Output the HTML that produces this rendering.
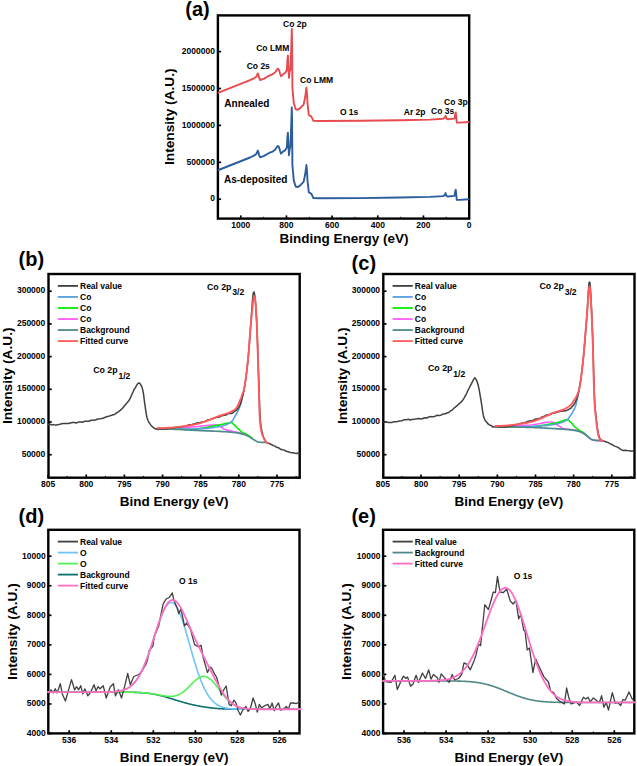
<!DOCTYPE html>
<html><head><meta charset="utf-8"><style>
html,body{margin:0;padding:0;background:#fff;}
svg{display:block;}
text{font-family:"Liberation Sans", sans-serif;fill:#000;}
</style></head><body>
<svg width="637" height="766" viewBox="0 0 637 766">
<rect width="637" height="766" fill="#fff"/>
<rect x="217.9" y="15.4" width="251.3" height="203.2" fill="none" stroke="#000" stroke-width="2.4"/>
<line x1="217.9" y1="199.2" x2="221.1" y2="199.2" stroke="#000" stroke-width="1.7"/>
<text x="214.9" y="201.4" font-size="8.5" text-anchor="end" font-weight="bold" >0</text>
<line x1="217.9" y1="162.3" x2="221.1" y2="162.3" stroke="#000" stroke-width="1.7"/>
<text x="214.9" y="164.5" font-size="8.5" text-anchor="end" font-weight="bold" >500000</text>
<line x1="217.9" y1="125.4" x2="221.1" y2="125.4" stroke="#000" stroke-width="1.7"/>
<text x="214.9" y="127.6" font-size="8.5" text-anchor="end" font-weight="bold" >1000000</text>
<line x1="217.9" y1="88.5" x2="221.1" y2="88.5" stroke="#000" stroke-width="1.7"/>
<text x="214.9" y="90.7" font-size="8.5" text-anchor="end" font-weight="bold" >1500000</text>
<line x1="217.9" y1="51.6" x2="221.1" y2="51.6" stroke="#000" stroke-width="1.7"/>
<text x="214.9" y="53.8" font-size="8.5" text-anchor="end" font-weight="bold" >2000000</text>
<line x1="240.8" y1="218.6" x2="240.8" y2="215.4" stroke="#000" stroke-width="1.7"/>
<text x="240.8" y="227.6" font-size="8.5" text-anchor="middle" font-weight="bold" >1000</text>
<line x1="286.46" y1="218.6" x2="286.46" y2="215.4" stroke="#000" stroke-width="1.7"/>
<text x="286.46" y="227.6" font-size="8.5" text-anchor="middle" font-weight="bold" >800</text>
<line x1="332.12" y1="218.6" x2="332.12" y2="215.4" stroke="#000" stroke-width="1.7"/>
<text x="332.12" y="227.6" font-size="8.5" text-anchor="middle" font-weight="bold" >600</text>
<line x1="377.78" y1="218.6" x2="377.78" y2="215.4" stroke="#000" stroke-width="1.7"/>
<text x="377.78" y="227.6" font-size="8.5" text-anchor="middle" font-weight="bold" >400</text>
<line x1="423.44" y1="218.6" x2="423.44" y2="215.4" stroke="#000" stroke-width="1.7"/>
<text x="423.44" y="227.6" font-size="8.5" text-anchor="middle" font-weight="bold" >200</text>
<line x1="469.1" y1="218.6" x2="469.1" y2="215.4" stroke="#000" stroke-width="1.7"/>
<text x="469.1" y="227.6" font-size="8.5" text-anchor="middle" font-weight="bold" >0</text>
<line x1="217.97" y1="218.6" x2="217.97" y2="216.8" stroke="#000" stroke-width="1"/>
<line x1="263.63" y1="218.6" x2="263.63" y2="216.8" stroke="#000" stroke-width="1"/>
<line x1="309.29" y1="218.6" x2="309.29" y2="216.8" stroke="#000" stroke-width="1"/>
<line x1="354.95" y1="218.6" x2="354.95" y2="216.8" stroke="#000" stroke-width="1"/>
<line x1="400.61" y1="218.6" x2="400.61" y2="216.8" stroke="#000" stroke-width="1"/>
<line x1="446.27" y1="218.6" x2="446.27" y2="216.8" stroke="#000" stroke-width="1"/>
<text x="343.9" y="243" font-size="13.5" text-anchor="middle" font-weight="bold" >Binding Energy (eV)</text>
<text x="174.5" y="116.7" font-size="13.7" text-anchor="middle" font-weight="bold" transform="rotate(-90 174.5 116.7)">Intensity (A.U.)</text>
<text x="185.3" y="16" font-size="20" text-anchor="start" font-weight="bold" >(a)</text>
<path d="M218.5,92.7 L235,86.2 L250,80.2 L253.9,78.3 L256.3,76.7 L257,75.2 L257.8,73.3 L258.5,75 L259,77.5 L260.2,80 L264.1,78.6 L267.3,76.7 L270.4,75.1 L272,74.6 L275.1,72.4 L277,69.5 L277.9,68.6 L279,69.8 L280,73.5 L281,76.3 L283,74.3 L285.3,72.8 L286.9,70 L287.4,60 L287.9,55.5 L288.4,68 L289,77.9 L289.6,72 L290.3,70 L290.9,58 L291.5,40 L291.8,28.9 L292.1,45 L292.4,87.7 L293.8,103.3 L295.7,109.2 L297.5,109.8 L299.7,108.6 L303.6,104.6 L305.2,97 L306.4,87.7 L307,94 L307.5,103.3 L308.8,115 L311.4,116.6 L313.4,120.8 L320,121 L360,120.8 L400,120.2 L430,119.6 L443,118.8 L445,117.5 L445.6,115.8 L446.4,118.6 L447.5,119.2 L454.5,118.6 L455.2,114 L455.8,112.5 L456.3,118 L456.8,122.6 L460,122.6 L468.6,122" fill="none" stroke="#E84A4F" stroke-width="1.9" stroke-linejoin="round" stroke-linecap="round" />
<path d="M218.5,170 L235,163.5 L250,157.5 L253.9,155.6 L256.3,154 L257,152.5 L257.8,150.6 L258.5,152.3 L259,154.8 L260.2,157.3 L264.1,155.9 L267.3,154 L270.4,152.4 L272,151.9 L275.1,149.7 L277,146.8 L277.9,145.9 L279,147.1 L280,150.8 L281,153.6 L283,151.6 L285.3,150.1 L286.9,147.3 L287.4,137.3 L287.9,132.8 L288.4,145.3 L289,155.2 L289.6,149.3 L290.3,147.3 L290.9,135.3 L291.5,117.3 L291.8,107.4 L292.1,122.3 L292.4,165 L293.8,180.6 L295.7,186.5 L297.5,187.1 L299.7,185.9 L303.6,181.9 L305.2,174.3 L306.4,165 L307,171.3 L307.5,180.6 L308.8,192.3 L311.4,193.9 L313.4,198.1 L320,198.3 L360,198.1 L400,197.5 L430,196.9 L443,196.1 L445,194.8 L445.6,193.1 L446.4,195.9 L447.5,196.5 L454.5,195.9 L455.2,191.3 L455.8,189.8 L456.3,195.3 L456.8,199.9 L460,199.9 L468.6,199.3" fill="none" stroke="#2B5C9B" stroke-width="1.9" stroke-linejoin="round" stroke-linecap="round" />
<text x="224.3" y="106.5" font-size="10" text-anchor="start" font-weight="bold" >Annealed</text>
<text x="224" y="182.8" font-size="10" text-anchor="start" font-weight="bold" >As-deposited</text>
<text x="283.1" y="27.1" font-size="8.5" text-anchor="start" font-weight="bold" >Co 2p</text>
<text x="256.2" y="51" font-size="8.5" text-anchor="start" font-weight="bold" >Co LMM</text>
<text x="246.7" y="68.6" font-size="8.5" text-anchor="start" font-weight="bold" >Co 2s</text>
<text x="300" y="83.1" font-size="8.5" text-anchor="start" font-weight="bold" >Co LMM</text>
<text x="339.9" y="115.3" font-size="8.5" text-anchor="start" font-weight="bold" >O 1s</text>
<text x="403.8" y="114.8" font-size="8.5" text-anchor="start" font-weight="bold" >Ar 2p</text>
<text x="431" y="113.5" font-size="8.5" text-anchor="start" font-weight="bold" >Co 3s</text>
<text x="444" y="105.2" font-size="8.5" text-anchor="start" font-weight="bold" >Co 3p</text>
<rect x="48.5" y="274" width="251.2" height="203.7" fill="none" stroke="#000" stroke-width="2.4"/>
<line x1="48.5" y1="454.7" x2="51.7" y2="454.7" stroke="#000" stroke-width="1.7"/>
<text x="45.3" y="456.7" font-size="8.5" text-anchor="end" font-weight="bold" >50000</text>
<line x1="48.5" y1="422" x2="51.7" y2="422" stroke="#000" stroke-width="1.7"/>
<text x="45.3" y="424" font-size="8.5" text-anchor="end" font-weight="bold" >100000</text>
<line x1="48.5" y1="389.3" x2="51.7" y2="389.3" stroke="#000" stroke-width="1.7"/>
<text x="45.3" y="391.3" font-size="8.5" text-anchor="end" font-weight="bold" >150000</text>
<line x1="48.5" y1="356.6" x2="51.7" y2="356.6" stroke="#000" stroke-width="1.7"/>
<text x="45.3" y="358.6" font-size="8.5" text-anchor="end" font-weight="bold" >200000</text>
<line x1="48.5" y1="323.9" x2="51.7" y2="323.9" stroke="#000" stroke-width="1.7"/>
<text x="45.3" y="325.9" font-size="8.5" text-anchor="end" font-weight="bold" >250000</text>
<line x1="48.5" y1="291.2" x2="51.7" y2="291.2" stroke="#000" stroke-width="1.7"/>
<text x="45.3" y="293.2" font-size="8.5" text-anchor="end" font-weight="bold" >300000</text>
<line x1="48.1" y1="477.7" x2="48.1" y2="474.5" stroke="#000" stroke-width="1.7"/>
<text x="48.1" y="487.2" font-size="8.5" text-anchor="middle" font-weight="bold" >805</text>
<line x1="86.25" y1="477.7" x2="86.25" y2="474.5" stroke="#000" stroke-width="1.7"/>
<text x="86.25" y="487.2" font-size="8.5" text-anchor="middle" font-weight="bold" >800</text>
<line x1="124.4" y1="477.7" x2="124.4" y2="474.5" stroke="#000" stroke-width="1.7"/>
<text x="124.4" y="487.2" font-size="8.5" text-anchor="middle" font-weight="bold" >795</text>
<line x1="162.55" y1="477.7" x2="162.55" y2="474.5" stroke="#000" stroke-width="1.7"/>
<text x="162.55" y="487.2" font-size="8.5" text-anchor="middle" font-weight="bold" >790</text>
<line x1="200.7" y1="477.7" x2="200.7" y2="474.5" stroke="#000" stroke-width="1.7"/>
<text x="200.7" y="487.2" font-size="8.5" text-anchor="middle" font-weight="bold" >785</text>
<line x1="238.85" y1="477.7" x2="238.85" y2="474.5" stroke="#000" stroke-width="1.7"/>
<text x="238.85" y="487.2" font-size="8.5" text-anchor="middle" font-weight="bold" >780</text>
<line x1="277" y1="477.7" x2="277" y2="474.5" stroke="#000" stroke-width="1.7"/>
<text x="277" y="487.2" font-size="8.5" text-anchor="middle" font-weight="bold" >775</text>
<line x1="67.17" y1="477.7" x2="67.17" y2="475.9" stroke="#000" stroke-width="1"/>
<line x1="105.33" y1="477.7" x2="105.33" y2="475.9" stroke="#000" stroke-width="1"/>
<line x1="143.47" y1="477.7" x2="143.47" y2="475.9" stroke="#000" stroke-width="1"/>
<line x1="181.62" y1="477.7" x2="181.62" y2="475.9" stroke="#000" stroke-width="1"/>
<line x1="219.78" y1="477.7" x2="219.78" y2="475.9" stroke="#000" stroke-width="1"/>
<line x1="257.93" y1="477.7" x2="257.93" y2="475.9" stroke="#000" stroke-width="1"/>
<line x1="296.07" y1="477.7" x2="296.07" y2="475.9" stroke="#000" stroke-width="1"/>
<text x="174.1" y="505.9" font-size="13.5" text-anchor="middle" font-weight="bold" >Bind Energy (eV)</text>
<text x="12.4" y="375.8" font-size="13.7" text-anchor="middle" font-weight="bold" transform="rotate(-90 12.4 375.8)">Intensity (A.U.)</text>
<text x="18.5" y="266.3" font-size="20" text-anchor="start" font-weight="bold" >(b)</text>
<line x1="57.8" y1="285.9" x2="78" y2="285.9" stroke="#404040" stroke-width="1.8"/>
<text x="80" y="289" font-size="8.5" text-anchor="start" font-weight="bold" >Real value</text>
<line x1="57.8" y1="296.94" x2="78" y2="296.94" stroke="#58A0E0" stroke-width="1.8"/>
<text x="80" y="300.04" font-size="8.5" text-anchor="start" font-weight="bold" >Co</text>
<line x1="57.8" y1="307.98" x2="78" y2="307.98" stroke="#00F000" stroke-width="1.8"/>
<text x="80" y="311.08" font-size="8.5" text-anchor="start" font-weight="bold" >Co</text>
<line x1="57.8" y1="319.02" x2="78" y2="319.02" stroke="#FF5CFF" stroke-width="1.8"/>
<text x="80" y="322.12" font-size="8.5" text-anchor="start" font-weight="bold" >Co</text>
<line x1="57.8" y1="330.06" x2="78" y2="330.06" stroke="#4E8B8C" stroke-width="1.8"/>
<text x="80" y="333.16" font-size="8.5" text-anchor="start" font-weight="bold" >Background</text>
<line x1="57.8" y1="341.1" x2="78" y2="341.1" stroke="#FF5A5C" stroke-width="1.8"/>
<text x="80" y="344.2" font-size="8.5" text-anchor="start" font-weight="bold" >Fitted curve</text>
<text x="207" y="289.6" font-size="8.8" font-weight="bold">Co 2p<tspan font-size="8.6" dx="0.8" dy="5.6">3/2</tspan></text>
<text x="93.2" y="372.7" font-size="8.8" font-weight="bold">Co 2p<tspan font-size="8.6" dx="0.8" dy="5.9">1/2</tspan></text>
<path d="M157.5,428.6 L158.34,428.57 L159.38,428.54 L160.59,428.51 L161.94,428.47 L163.42,428.42 L165,428.38 L166.64,428.32 L168.33,428.27 L170.04,428.21 L171.74,428.14 L173.4,428.07 L175,428 L176.59,427.92 L178.22,427.84 L179.88,427.76 L181.57,427.67 L183.27,427.57 L184.99,427.48 L186.7,427.37 L188.41,427.27 L190.1,427.16 L191.77,427.04 L193.41,426.92 L195,426.8 L196.59,426.66 L198.22,426.51 L199.86,426.34 L201.51,426.16 L203.14,425.97 L204.73,425.79 L206.28,425.61 L207.76,425.44 L209.16,425.3 L210.46,425.17 L211.65,425.07 L212.7,425 L213.61,424.96 L214.37,424.93 L215.01,424.91 L215.54,424.91 L216,424.93 L216.39,424.96 L216.75,425.02 L217.08,425.09 L217.41,425.18 L217.76,425.3 L218.15,425.44 L218.6,425.6 L219.09,425.8 L219.6,426.06 L220.11,426.35 L220.62,426.67 L221.14,427.01 L221.64,427.37 L222.14,427.73 L222.63,428.07 L223.11,428.41 L223.56,428.71 L223.99,428.98 L224.4,429.2 L224.76,429.38 L225.07,429.52 L225.35,429.63 L225.59,429.73 L225.82,429.8 L226.05,429.86 L226.29,429.92 L226.54,429.97 L226.83,430.03 L227.16,430.11 L227.55,430.19 L228,430.3 L228.53,430.43 L229.13,430.56 L229.78,430.71 L230.48,430.86 L231.21,431.02 L231.96,431.18 L232.71,431.34 L233.47,431.5 L234.2,431.66 L234.91,431.82 L235.58,431.96 L236.2,432.1 L236.79,432.24 L237.38,432.37 L237.97,432.51 L238.56,432.65 L239.12,432.78 L239.66,432.91 L240.18,433.04 L240.66,433.15 L241.09,433.26 L241.48,433.35 L241.82,433.43 L242.1,433.5" fill="none" stroke="#FF5CFF" stroke-width="1.6" stroke-linejoin="round" stroke-linecap="round" />
<path d="M157.5,428.6 L158.34,428.62 L159.38,428.65 L160.59,428.68 L161.94,428.71 L163.42,428.75 L165,428.79 L166.64,428.83 L168.33,428.87 L170.04,428.9 L171.74,428.94 L173.4,428.97 L175,429 L176.57,429.04 L178.15,429.1 L179.74,429.17 L181.35,429.24 L182.97,429.32 L184.62,429.39 L186.28,429.44 L187.97,429.47 L189.69,429.46 L191.43,429.42 L193.2,429.34 L195,429.2 L196.88,429 L198.86,428.73 L200.93,428.41 L203.04,428.06 L205.18,427.67 L207.32,427.26 L209.43,426.84 L211.48,426.42 L213.45,426.02 L215.31,425.64 L217.04,425.3 L218.6,425 L220.02,424.73 L221.35,424.47 L222.58,424.22 L223.73,423.99 L224.8,423.76 L225.79,423.55 L226.7,423.36 L227.54,423.18 L228.32,423.03 L229.04,422.89 L229.7,422.78 L230.3,422.7 L230.81,422.64 L231.19,422.58 L231.45,422.55 L231.64,422.53 L231.75,422.54 L231.83,422.56 L231.87,422.61 L231.92,422.69 L231.98,422.79 L232.09,422.93 L232.25,423.1 L232.5,423.3 L232.81,423.55 L233.16,423.85 L233.54,424.2 L233.94,424.59 L234.36,425 L234.79,425.43 L235.24,425.88 L235.68,426.33 L236.13,426.77 L236.56,427.2 L236.99,427.62 L237.4,428 L237.79,428.37 L238.18,428.73 L238.56,429.09 L238.94,429.45 L239.31,429.8 L239.69,430.15 L240.07,430.49 L240.45,430.83 L240.85,431.16 L241.25,431.48 L241.67,431.8 L242.1,432.1 L242.56,432.39 L243.04,432.68 L243.54,432.95 L244.05,433.22 L244.57,433.48 L245.09,433.73 L245.62,433.98 L246.13,434.23 L246.63,434.47 L247.11,434.71 L247.57,434.96 L248,435.2 L248.41,435.45 L248.82,435.72 L249.23,435.99 L249.62,436.26 L250,436.53 L250.37,436.79 L250.71,437.05 L251.03,437.29 L251.33,437.5 L251.59,437.7 L251.81,437.87 L252,438" fill="none" stroke="#00F000" stroke-width="1.6" stroke-linejoin="round" stroke-linecap="round" />
<path d="M157.5,428.6 L159.36,428.63 L161.74,428.67 L164.56,428.73 L167.74,428.8 L171.17,428.87 L174.78,428.94 L178.46,429 L182.14,429.04 L185.72,429.07 L189.12,429.08 L192.24,429.06 L195,429 L197.49,428.91 L199.88,428.81 L202.16,428.68 L204.34,428.54 L206.42,428.37 L208.41,428.19 L210.31,428 L212.13,427.79 L213.86,427.56 L215.52,427.32 L217.09,427.07 L218.6,426.8 L220.01,426.52 L221.32,426.23 L222.53,425.92 L223.64,425.6 L224.67,425.26 L225.63,424.91 L226.52,424.54 L227.36,424.16 L228.15,423.76 L228.89,423.36 L229.61,422.94 L230.3,422.5 L230.94,422.05 L231.49,421.6 L231.96,421.14 L232.38,420.66 L232.75,420.17 L233.08,419.67 L233.39,419.15 L233.69,418.6 L233.98,418.04 L234.29,417.45 L234.63,416.84 L235,416.2 L235.4,415.52 L235.82,414.8 L236.25,414.04 L236.69,413.26 L237.12,412.45 L237.55,411.62 L237.97,410.8 L238.38,409.97 L238.77,409.15 L239.14,408.34 L239.49,407.55 L239.8,406.8 L240.08,406.07 L240.33,405.36 L240.56,404.65 L240.77,403.96 L240.96,403.27 L241.13,402.59 L241.3,401.92 L241.46,401.24 L241.61,400.56 L241.77,399.88 L241.93,399.2 L242.1,398.5 L242.28,397.77 L242.46,397 L242.65,396.19 L242.83,395.37 L243.02,394.54 L243.19,393.73 L243.36,392.95 L243.52,392.21 L243.67,391.53 L243.8,390.93 L243.91,390.41 L244,390" fill="none" stroke="#58A0E0" stroke-width="1.6" stroke-linejoin="round" stroke-linecap="round" />
<path d="M157.5,428.6 L158.34,428.63 L159.38,428.67 L160.59,428.72 L161.94,428.77 L163.42,428.83 L165,428.89 L166.64,428.95 L168.33,429.02 L170.04,429.09 L171.74,429.16 L173.4,429.23 L175,429.3 L176.53,429.37 L178.01,429.44 L179.47,429.51 L180.91,429.58 L182.38,429.65 L183.89,429.73 L185.46,429.81 L187.11,429.9 L188.87,429.99 L190.75,430.08 L192.79,430.19 L195,430.3 L197.47,430.42 L200.23,430.54 L203.22,430.67 L206.37,430.8 L209.64,430.94 L212.94,431.08 L216.23,431.23 L219.45,431.39 L222.52,431.55 L225.4,431.73 L228.01,431.91 L230.3,432.1 L232.3,432.3 L234.09,432.5 L235.7,432.7 L237.14,432.91 L238.45,433.13 L239.64,433.36 L240.73,433.6 L241.76,433.85 L242.74,434.12 L243.69,434.39 L244.63,434.69 L245.6,435 L246.55,435.34 L247.43,435.72 L248.25,436.12 L249.02,436.55 L249.74,436.99 L250.41,437.44 L251.05,437.88 L251.66,438.31 L252.24,438.73 L252.81,439.12 L253.36,439.48 L253.9,439.8 L254.41,440.09 L254.86,440.35 L255.27,440.6 L255.64,440.83 L255.99,441.04 L256.33,441.23 L256.65,441.41 L256.99,441.57 L257.34,441.72 L257.72,441.86 L258.14,441.99 L258.6,442.1 L259.12,442.19 L259.7,442.26 L260.32,442.31 L260.97,442.34 L261.63,442.35 L262.3,442.36 L262.96,442.36 L263.6,442.35 L264.21,442.35 L264.77,442.36 L265.27,442.37 L265.7,442.4 L266.07,442.44 L266.39,442.49 L266.67,442.54 L266.91,442.6 L267.12,442.66 L267.29,442.72 L267.45,442.78 L267.58,442.83 L267.7,442.89 L267.81,442.93 L267.9,442.97 L268,443" fill="none" stroke="#4E8B8C" stroke-width="1.7" stroke-linejoin="round" stroke-linecap="round" />
<path d="M48.5,424.6 L50.17,424.24 L51.73,424.91 L53.46,424.62 L55.22,424.88 L56.87,425.07 L58.27,424.58 L60.08,424.31 L61.79,423.63 L63.65,423.48 L65.1,423.5 L66.75,423.51 L68.54,423.49 L70.43,422.98 L72.4,422.56 L74.4,422.6 L76.4,422.96 L78.43,422.12 L80.51,422.08 L82.62,422.23 L84.76,421.14 L86.89,421.33 L89,421.29 L91.12,420.3 L93.26,420.19 L95.41,420.09 L97.51,418.99 L99.56,418.88 L101.5,418.61 L103.4,418.04 L105.29,417.32 L107.12,416.54 L108.82,416.22 L110.33,415.62 L111.6,415.28 L112.85,414.79 L114.1,414.66 L115.43,413.82 L116.91,412.62 L118.02,412.07 L119.15,411.11 L120.26,410.37 L121.3,409.43 L122.3,408.55 L123.31,407.26 L124.3,406.07 L125.23,404.95 L126.08,403.76 L127.1,402.74 L128.13,401.58 L129.1,400.45 L129.77,399.07 L130.57,397.36 L131.44,395.47 L132.31,393.51 L133.12,391.71 L133.8,390.21 L134.56,388.75 L135.32,387.61 L136.2,386.21 L136.99,384.87 L137.76,383.65 L138.86,382.94 L139.87,383.49 L140.65,384.64 L141.47,386.02 L141.97,387.19 L142.47,388.91 L142.82,390.39 L143.16,392.08 L143.5,394 L143.71,395.42 L143.9,396.91 L144.09,398.51 L144.29,400.22 L144.52,402.05 L144.8,404 L145.12,406.2 L145.46,408.69 L145.65,409.98 L145.84,411.28 L146.04,412.57 L146.47,415.06 L146.94,417.25 L147.47,419.07 L148.05,420.58 L148.68,421.8 L149.69,423.37 L150.74,424.86 L151.84,426.2 L153.03,427.2 L154.24,428.15 L155.42,428.94 L156.63,428.82 L158.2,429.65 L160,429 L161.88,429.04 L164.2,429.12 L166.82,428.78 L168.2,428.12 L169.6,428.42 L171,427.73 L172.38,427.82 L173.72,428.05 L176.25,427.36 L178.75,427.14 L181.25,426.86 L183.75,426.51 L186.25,426 L188.75,424.84 L191.25,424.65 L193.75,424.08 L196.25,423.08 L198.75,422.81 L201.25,422.16 L203.75,421.63 L206.28,421 L207.59,419.94 L208.94,419.63 L210.3,419.58 L211.66,418.74 L213,418.41 L214.32,418.3 L215.59,417.58 L217.96,417.35 L220,416.79 L221.63,415.62 L222.92,415.63 L224.48,415.36 L225.92,415.04 L227.59,413.93 L229.4,413.38 L231.22,413.5 L232.98,412.79 L234.1,411.61 L235.17,410.98 L236.2,410.33 L237.2,409.43 L238.17,407.99 L239.1,406.65 L240,404.74 L240.87,402.36 L241.29,401.02 L241.7,399.62 L242.1,398.16 L242.5,396.64 L242.89,394.98 L243.27,393.28 L243.64,391.54 L244,389.7 L244.35,387.83 L244.7,385.89 L245.04,383.88 L245.37,381.76 L245.69,379.55 L246,377.25 L246.3,374.9 L246.59,372.49 L246.88,370.04 L247.16,367.56 L247.43,365.06 L247.69,362.55 L247.95,360.07 L248.2,357.6 L248.44,355.14 L248.66,352.69 L248.86,350.22 L249.06,347.74 L249.25,345.25 L249.43,342.73 L249.61,340.19 L249.8,337.62 L249.98,335.03 L250.18,332.39 L250.38,329.72 L250.6,327 L250.83,324.04 L251.07,320.71 L251.31,317.13 L251.56,313.41 L251.82,309.65 L252.07,305.98 L252.33,302.49 L252.59,299.31 L252.85,296.53 L253.1,294.28 L253.36,292.67 L254.08,291.92 L254.57,294.06 L254.81,295.77 L255.04,297.83 L255.28,300.23 L255.51,302.93 L255.74,305.9 L255.96,309.09 L256.18,312.47 L256.4,316 L256.61,319.91 L256.82,324.4 L257.03,329.36 L257.23,334.68 L257.43,340.27 L257.63,346.01 L257.82,351.81 L258.01,357.56 L258.19,363.16 L258.37,368.5 L258.54,373.48 L258.7,378 L258.85,382.18 L258.99,386.22 L259.11,390.11 L259.23,393.85 L259.34,397.44 L259.44,400.88 L259.55,404.15 L259.66,407.26 L259.78,410.2 L259.91,412.98 L260.05,415.58 L260.2,418 L260.37,420.2 L260.54,422.15 L260.71,423.88 L260.9,425.41 L261.09,426.79 L261.48,429.13 L261.91,431.14 L262.36,433.01 L262.85,434.97 L263.41,436.71 L264.01,438.18 L264.62,439.39 L265.49,441.04 L266.21,442.03 L267.49,442.99 L269.19,443.55 L270.39,443.94 L271.76,444.78 L273.26,445.6 L274.85,446.08 L276.5,447.26 L278.26,447.73 L280.18,448.95 L282.19,449.79 L284.24,450.08 L286.26,451.28 L288.2,451.64 L290.18,452.51 L292.27,452.73 L294.33,452.96 L296.23,453.59 L297.84,453.05 L299,453.65" fill="none" stroke="#404040" stroke-width="1.5" stroke-linejoin="round" stroke-linecap="round" />
<path d="M157.5,428.3 L158.34,428.26 L159.38,428.21 L160.59,428.16 L161.94,428.11 L163.42,428.05 L165,427.98 L166.64,427.9 L168.33,427.81 L170.04,427.71 L171.74,427.59 L173.4,427.45 L175,427.3 L176.61,427.13 L178.28,426.93 L180.02,426.72 L181.79,426.5 L183.57,426.26 L185.36,426.01 L187.12,425.75 L188.85,425.48 L190.52,425.21 L192.11,424.94 L193.61,424.67 L195,424.4 L196.27,424.13 L197.44,423.87 L198.53,423.6 L199.54,423.32 L200.5,423.04 L201.41,422.76 L202.3,422.47 L203.17,422.18 L204.04,421.87 L204.93,421.56 L205.84,421.24 L206.8,420.9 L207.78,420.55 L208.77,420.18 L209.75,419.8 L210.74,419.4 L211.72,419 L212.71,418.59 L213.69,418.18 L214.67,417.77 L215.66,417.36 L216.64,416.96 L217.62,416.57 L218.6,416.2 L219.6,415.84 L220.62,415.48 L221.67,415.13 L222.72,414.79 L223.78,414.45 L224.82,414.11 L225.84,413.78 L226.83,413.44 L227.79,413.11 L228.69,412.78 L229.53,412.44 L230.3,412.1 L231,411.77 L231.65,411.45 L232.24,411.15 L232.78,410.84 L233.29,410.54 L233.76,410.24 L234.2,409.92 L234.62,409.59 L235.02,409.24 L235.42,408.86 L235.81,408.45 L236.2,408 L236.58,407.51 L236.95,406.98 L237.29,406.41 L237.62,405.81 L237.93,405.19 L238.22,404.56 L238.51,403.93 L238.78,403.29 L239.05,402.66 L239.3,402.05 L239.55,401.46 L239.8,400.9 L240.04,400.38 L240.26,399.88 L240.46,399.42 L240.65,398.96 L240.84,398.52 L241.01,398.07 L241.19,397.62 L241.36,397.16 L241.53,396.67 L241.71,396.15 L241.9,395.6 L242.1,395 L242.3,394.41 L242.51,393.89 L242.71,393.4 L242.91,392.91 L243.12,392.41 L243.32,391.85 L243.54,391.21 L243.76,390.47 L243.98,389.6 L244.21,388.56 L244.45,387.34 L244.7,385.9 L244.96,384.22 L245.24,382.32 L245.54,380.23 L245.84,377.97 L246.15,375.59 L246.46,373.09 L246.77,370.53 L247.08,367.91 L247.38,365.29 L247.67,362.67 L247.94,360.1 L248.2,357.6 L248.44,355.13 L248.65,352.63 L248.85,350.11 L249.04,347.57 L249.22,345.01 L249.4,342.44 L249.58,339.86 L249.76,337.28 L249.95,334.7 L250.15,332.12 L250.36,329.55 L250.6,327 L250.86,324.29 L251.13,321.31 L251.42,318.15 L251.73,314.9 L252.04,311.65 L252.35,308.49 L252.66,305.52 L252.97,302.81 L253.28,300.47 L253.57,298.57 L253.84,297.22 L254.1,296.5 L254.34,296.34 L254.57,296.61 L254.78,297.27 L254.99,298.31 L255.19,299.72 L255.39,301.47 L255.58,303.54 L255.76,305.91 L255.95,308.56 L256.13,311.47 L256.31,314.62 L256.5,318 L256.69,321.82 L256.88,326.26 L257.07,331.2 L257.26,336.53 L257.44,342.15 L257.62,347.93 L257.8,353.77 L257.98,359.57 L258.15,365.2 L258.31,370.55 L258.46,375.52 L258.6,380 L258.73,384.11 L258.84,388.06 L258.94,391.84 L259.03,395.46 L259.11,398.92 L259.19,402.22 L259.27,405.35 L259.35,408.33 L259.44,411.14 L259.55,413.79 L259.66,416.27 L259.8,418.6 L259.95,420.72 L260.1,422.59 L260.27,424.24 L260.44,425.71 L260.61,427.02 L260.8,428.19 L260.99,429.25 L261.2,430.23 L261.41,431.16 L261.63,432.07 L261.86,432.97 L262.1,433.9 L262.36,434.82 L262.64,435.68 L262.94,436.48 L263.25,437.22 L263.57,437.91 L263.9,438.54 L264.23,439.13 L264.55,439.68 L264.86,440.19 L265.16,440.66 L265.44,441.09 L265.7,441.5 L265.94,441.86 L266.19,442.16 L266.42,442.4 L266.65,442.6 L266.87,442.75 L267.07,442.88 L267.27,442.97 L267.45,443.05 L267.62,443.11 L267.76,443.17 L267.89,443.23 L268,443.3" fill="none" stroke="#FF5A5C" stroke-width="1.9" stroke-linejoin="round" stroke-linecap="round" />
<rect x="383.3" y="274" width="251.2" height="203.7" fill="none" stroke="#000" stroke-width="2.4"/>
<line x1="383.3" y1="454.7" x2="386.5" y2="454.7" stroke="#000" stroke-width="1.7"/>
<text x="380.1" y="456.7" font-size="8.5" text-anchor="end" font-weight="bold" >50000</text>
<line x1="383.3" y1="422" x2="386.5" y2="422" stroke="#000" stroke-width="1.7"/>
<text x="380.1" y="424" font-size="8.5" text-anchor="end" font-weight="bold" >100000</text>
<line x1="383.3" y1="389.3" x2="386.5" y2="389.3" stroke="#000" stroke-width="1.7"/>
<text x="380.1" y="391.3" font-size="8.5" text-anchor="end" font-weight="bold" >150000</text>
<line x1="383.3" y1="356.6" x2="386.5" y2="356.6" stroke="#000" stroke-width="1.7"/>
<text x="380.1" y="358.6" font-size="8.5" text-anchor="end" font-weight="bold" >200000</text>
<line x1="383.3" y1="323.9" x2="386.5" y2="323.9" stroke="#000" stroke-width="1.7"/>
<text x="380.1" y="325.9" font-size="8.5" text-anchor="end" font-weight="bold" >250000</text>
<line x1="383.3" y1="291.2" x2="386.5" y2="291.2" stroke="#000" stroke-width="1.7"/>
<text x="380.1" y="293.2" font-size="8.5" text-anchor="end" font-weight="bold" >300000</text>
<line x1="382.9" y1="477.7" x2="382.9" y2="474.5" stroke="#000" stroke-width="1.7"/>
<text x="382.9" y="487.2" font-size="8.5" text-anchor="middle" font-weight="bold" >805</text>
<line x1="421.05" y1="477.7" x2="421.05" y2="474.5" stroke="#000" stroke-width="1.7"/>
<text x="421.05" y="487.2" font-size="8.5" text-anchor="middle" font-weight="bold" >800</text>
<line x1="459.2" y1="477.7" x2="459.2" y2="474.5" stroke="#000" stroke-width="1.7"/>
<text x="459.2" y="487.2" font-size="8.5" text-anchor="middle" font-weight="bold" >795</text>
<line x1="497.35" y1="477.7" x2="497.35" y2="474.5" stroke="#000" stroke-width="1.7"/>
<text x="497.35" y="487.2" font-size="8.5" text-anchor="middle" font-weight="bold" >790</text>
<line x1="535.5" y1="477.7" x2="535.5" y2="474.5" stroke="#000" stroke-width="1.7"/>
<text x="535.5" y="487.2" font-size="8.5" text-anchor="middle" font-weight="bold" >785</text>
<line x1="573.65" y1="477.7" x2="573.65" y2="474.5" stroke="#000" stroke-width="1.7"/>
<text x="573.65" y="487.2" font-size="8.5" text-anchor="middle" font-weight="bold" >780</text>
<line x1="611.8" y1="477.7" x2="611.8" y2="474.5" stroke="#000" stroke-width="1.7"/>
<text x="611.8" y="487.2" font-size="8.5" text-anchor="middle" font-weight="bold" >775</text>
<line x1="401.98" y1="477.7" x2="401.98" y2="475.9" stroke="#000" stroke-width="1"/>
<line x1="440.13" y1="477.7" x2="440.13" y2="475.9" stroke="#000" stroke-width="1"/>
<line x1="478.28" y1="477.7" x2="478.28" y2="475.9" stroke="#000" stroke-width="1"/>
<line x1="516.43" y1="477.7" x2="516.43" y2="475.9" stroke="#000" stroke-width="1"/>
<line x1="554.58" y1="477.7" x2="554.58" y2="475.9" stroke="#000" stroke-width="1"/>
<line x1="592.73" y1="477.7" x2="592.73" y2="475.9" stroke="#000" stroke-width="1"/>
<line x1="630.88" y1="477.7" x2="630.88" y2="475.9" stroke="#000" stroke-width="1"/>
<text x="508.9" y="505.9" font-size="13.5" text-anchor="middle" font-weight="bold" >Bind Energy (eV)</text>
<text x="347.2" y="375.8" font-size="13.7" text-anchor="middle" font-weight="bold" transform="rotate(-90 347.2 375.8)">Intensity (A.U.)</text>
<text x="351.6" y="269.8" font-size="20" text-anchor="start" font-weight="bold" >(c)</text>
<line x1="392.6" y1="285.9" x2="412.8" y2="285.9" stroke="#404040" stroke-width="1.8"/>
<text x="414.8" y="289" font-size="8.5" text-anchor="start" font-weight="bold" >Real value</text>
<line x1="392.6" y1="296.94" x2="412.8" y2="296.94" stroke="#58A0E0" stroke-width="1.8"/>
<text x="414.8" y="300.04" font-size="8.5" text-anchor="start" font-weight="bold" >Co</text>
<line x1="392.6" y1="307.98" x2="412.8" y2="307.98" stroke="#00F000" stroke-width="1.8"/>
<text x="414.8" y="311.08" font-size="8.5" text-anchor="start" font-weight="bold" >Co</text>
<line x1="392.6" y1="319.02" x2="412.8" y2="319.02" stroke="#FF5CFF" stroke-width="1.8"/>
<text x="414.8" y="322.12" font-size="8.5" text-anchor="start" font-weight="bold" >Co</text>
<line x1="392.6" y1="330.06" x2="412.8" y2="330.06" stroke="#4E8B8C" stroke-width="1.8"/>
<text x="414.8" y="333.16" font-size="8.5" text-anchor="start" font-weight="bold" >Background</text>
<line x1="392.6" y1="341.1" x2="412.8" y2="341.1" stroke="#FF5A5C" stroke-width="1.8"/>
<text x="414.8" y="344.2" font-size="8.5" text-anchor="start" font-weight="bold" >Fitted curve</text>
<text x="539.4" y="289.3" font-size="8.8" font-weight="bold">Co 2p<tspan font-size="8.6" dx="0.8" dy="5.6">3/2</tspan></text>
<text x="428" y="371" font-size="8.8" font-weight="bold">Co 2p<tspan font-size="8.6" dx="0.8" dy="5.9">1/2</tspan></text>
<path d="M495.3,426.6 L497.03,426.53 L499.27,426.44 L501.93,426.34 L504.93,426.23 L508.16,426.11 L511.54,425.98 L514.99,425.84 L518.41,425.69 L521.71,425.53 L524.8,425.36 L527.59,425.18 L530,425 L532.11,424.79 L534.07,424.55 L535.9,424.28 L537.6,424 L539.18,423.71 L540.65,423.41 L542.02,423.13 L543.3,422.86 L544.5,422.61 L545.63,422.4 L546.69,422.22 L547.7,422.1 L548.61,422.02 L549.37,421.96 L550.01,421.94 L550.54,421.93 L551,421.96 L551.39,422 L551.75,422.07 L552.08,422.16 L552.41,422.26 L552.76,422.39 L553.15,422.54 L553.6,422.7 L554.09,422.89 L554.58,423.13 L555.08,423.4 L555.58,423.69 L556.07,424.01 L556.57,424.34 L557.06,424.67 L557.54,425.01 L558.02,425.33 L558.49,425.65 L558.95,425.94 L559.4,426.2 L559.81,426.44 L560.16,426.67 L560.48,426.89 L560.77,427.1 L561.06,427.3 L561.36,427.5 L561.68,427.69 L562.04,427.88 L562.45,428.06 L562.94,428.24 L563.52,428.42 L564.2,428.6 L565.01,428.77 L565.94,428.92 L566.97,429.06 L568.09,429.19 L569.25,429.32 L570.46,429.44 L571.67,429.58 L572.87,429.72 L574.04,429.88 L575.15,430.06 L576.17,430.27 L577.1,430.5 L577.93,430.76 L578.71,431.04 L579.44,431.34 L580.12,431.66 L580.77,432 L581.39,432.34 L582,432.7 L582.59,433.07 L583.18,433.45 L583.77,433.83 L584.38,434.21 L585,434.6 L585.63,435.01 L586.25,435.45 L586.86,435.92 L587.47,436.4 L588.07,436.9 L588.68,437.39 L589.28,437.87 L589.89,438.33 L590.5,438.76 L591.12,439.16 L591.75,439.51 L592.4,439.8 L593.09,440.04 L593.83,440.23 L594.61,440.39 L595.41,440.51 L596.21,440.6 L597.01,440.68 L597.78,440.73 L598.51,440.77 L599.19,440.8 L599.79,440.83 L600.3,440.86 L600.7,440.9" fill="none" stroke="#FF5CFF" stroke-width="1.6" stroke-linejoin="round" stroke-linecap="round" />
<path d="M495.3,426.6 L497.01,426.62 L499.2,426.66 L501.8,426.72 L504.71,426.79 L507.86,426.86 L511.18,426.92 L514.57,426.97 L517.97,427 L521.29,427.01 L524.46,426.98 L527.39,426.91 L530,426.8 L532.39,426.64 L534.7,426.43 L536.93,426.19 L539.09,425.91 L541.16,425.61 L543.16,425.29 L545.09,424.95 L546.94,424.61 L548.71,424.27 L550.41,423.93 L552.04,423.61 L553.6,423.3 L555.08,422.99 L556.48,422.64 L557.8,422.28 L559.04,421.91 L560.21,421.53 L561.31,421.17 L562.33,420.82 L563.29,420.5 L564.19,420.22 L565.02,419.99 L565.79,419.81 L566.5,419.7 L567.12,419.65 L567.61,419.65 L568.01,419.69 L568.31,419.77 L568.56,419.89 L568.76,420.04 L568.93,420.23 L569.09,420.44 L569.25,420.68 L569.45,420.93 L569.69,421.21 L570,421.5 L570.35,421.82 L570.73,422.2 L571.11,422.62 L571.51,423.07 L571.91,423.55 L572.33,424.04 L572.74,424.54 L573.16,425.04 L573.58,425.52 L573.99,425.98 L574.4,426.41 L574.8,426.8 L575.2,427.16 L575.59,427.49 L575.98,427.82 L576.37,428.12 L576.77,428.42 L577.16,428.7 L577.55,428.98 L577.94,429.24 L578.33,429.51 L578.72,429.77 L579.11,430.04 L579.5,430.3 L579.9,430.56 L580.31,430.82 L580.72,431.07 L581.14,431.31 L581.55,431.56 L581.97,431.79 L582.38,432.03 L582.77,432.26 L583.16,432.5 L583.53,432.73 L583.87,432.96 L584.2,433.2 L584.51,433.45 L584.81,433.7 L585.1,433.97 L585.38,434.24 L585.64,434.52 L585.89,434.78 L586.13,435.04 L586.34,435.28 L586.54,435.5 L586.72,435.7 L586.87,435.87 L587,436" fill="none" stroke="#00F000" stroke-width="1.6" stroke-linejoin="round" stroke-linecap="round" />
<path d="M495.3,426.6 L497.01,426.61 L499.2,426.62 L501.8,426.65 L504.71,426.68 L507.86,426.71 L511.18,426.73 L514.57,426.75 L517.97,426.76 L521.29,426.75 L524.46,426.72 L527.39,426.67 L530,426.6 L532.39,426.5 L534.71,426.39 L536.96,426.26 L539.13,426.11 L541.22,425.95 L543.24,425.78 L545.17,425.59 L547.03,425.39 L548.8,425.18 L550.48,424.96 L552.09,424.73 L553.6,424.5 L555.01,424.26 L556.32,424 L557.53,423.73 L558.64,423.45 L559.67,423.16 L560.63,422.86 L561.52,422.55 L562.36,422.24 L563.15,421.91 L563.89,421.58 L564.61,421.24 L565.3,420.9 L565.94,420.56 L566.49,420.22 L566.96,419.88 L567.38,419.54 L567.75,419.2 L568.08,418.84 L568.39,418.46 L568.69,418.07 L568.98,417.65 L569.29,417.2 L569.63,416.72 L570,416.2 L570.4,415.64 L570.82,415.04 L571.25,414.4 L571.69,413.73 L572.12,413.04 L572.55,412.32 L572.97,411.6 L573.38,410.87 L573.77,410.14 L574.14,409.41 L574.49,408.7 L574.8,408 L575.08,407.32 L575.33,406.64 L575.56,405.96 L575.77,405.29 L575.96,404.62 L576.13,403.94 L576.3,403.26 L576.46,402.57 L576.61,401.88 L576.77,401.17 L576.93,400.44 L577.1,399.7 L577.28,398.91 L577.46,398.05 L577.65,397.15 L577.83,396.21 L578.02,395.27 L578.19,394.33 L578.36,393.42 L578.52,392.57 L578.67,391.78 L578.8,391.07 L578.91,390.47 L579,390" fill="none" stroke="#58A0E0" stroke-width="1.6" stroke-linejoin="round" stroke-linecap="round" />
<path d="M495.3,426.6 L497.01,426.64 L499.2,426.68 L501.8,426.73 L504.71,426.79 L507.86,426.86 L511.18,426.93 L514.57,427 L517.97,427.07 L521.29,427.15 L524.46,427.23 L527.39,427.32 L530,427.4 L532.38,427.49 L534.67,427.58 L536.88,427.67 L539,427.77 L541.04,427.88 L543.01,427.98 L544.92,428.09 L546.76,428.19 L548.54,428.3 L550.28,428.4 L551.96,428.5 L553.6,428.6 L555.18,428.69 L556.68,428.78 L558.12,428.87 L559.49,428.95 L560.8,429.03 L562.06,429.11 L563.28,429.2 L564.46,429.29 L565.6,429.38 L566.72,429.48 L567.82,429.58 L568.9,429.7 L569.96,429.82 L570.99,429.95 L571.99,430.07 L572.96,430.2 L573.89,430.34 L574.79,430.48 L575.65,430.63 L576.49,430.79 L577.29,430.95 L578.06,431.12 L578.8,431.31 L579.5,431.5 L580.16,431.7 L580.76,431.91 L581.31,432.13 L581.82,432.35 L582.3,432.58 L582.75,432.82 L583.19,433.07 L583.61,433.33 L584.04,433.6 L584.48,433.89 L584.93,434.19 L585.4,434.5 L585.89,434.84 L586.38,435.23 L586.88,435.64 L587.38,436.07 L587.87,436.52 L588.37,436.97 L588.86,437.41 L589.34,437.84 L589.82,438.24 L590.29,438.61 L590.75,438.93 L591.2,439.2 L591.63,439.42 L592.03,439.6 L592.42,439.75 L592.79,439.87 L593.16,439.96 L593.53,440.03 L593.89,440.09 L594.27,440.13 L594.67,440.17 L595.08,440.21 L595.53,440.25 L596,440.3 L596.53,440.35 L597.12,440.39 L597.76,440.42 L598.43,440.44 L599.12,440.46 L599.8,440.47 L600.47,440.48 L601.1,440.48 L601.69,440.49 L602.21,440.49 L602.65,440.49 L603,440.5" fill="none" stroke="#4E8B8C" stroke-width="1.7" stroke-linejoin="round" stroke-linecap="round" />
<path d="M383.8,422 L385.29,422.29 L386.66,421.86 L388.23,422.43 L389.93,422.55 L391.71,422.49 L393.5,421.86 L395.4,421.74 L397.41,421.55 L399.52,421.07 L401.71,420.77 L403.96,419.83 L406.28,419.79 L408.81,419.35 L410.13,419.96 L411.46,419.43 L412.8,419.6 L414.13,419.13 L415.44,419.11 L417.94,418.6 L420.2,418.67 L422.14,418.93 L423.85,418.02 L425.41,417.82 L426.94,418.04 L428.54,416.95 L430.3,416.62 L432.3,416.73 L434.47,416.54 L436.71,415.36 L438.91,415.55 L440.97,415.14 L442.8,414.04 L444.37,414.07 L445.76,413.49 L447.01,413 L448.73,412.57 L450.4,410.97 L451.49,410.4 L452.51,409.81 L453.48,408.72 L454.43,407.77 L455.36,407.05 L456.78,405.92 L458.22,404.41 L459.64,403.42 L460.98,402.15 L462.18,400.89 L463.25,399.45 L464.21,397.87 L465.11,396.08 L465.99,394.61 L466.79,393 L467.54,391.36 L468.29,389.78 L469.06,388.23 L469.86,386.6 L470.67,385.13 L471.47,383.56 L472.26,382.08 L473.04,380.57 L473.81,379.11 L474.84,377.79 L475.9,379.12 L476.7,380.58 L477.24,382 L477.77,383.72 L478.3,385.7 L478.83,388.06 L479.1,389.43 L479.37,390.87 L479.63,392.38 L479.9,393.93 L480.16,395.53 L480.42,397.1 L480.68,398.66 L480.93,400.2 L481.17,401.63 L481.4,402.99 L481.62,404.31 L481.82,405.63 L482.01,406.94 L482.2,408.23 L482.55,410.73 L482.91,413.1 L483.32,415.23 L483.8,417.08 L484.35,418.63 L484.96,419.87 L485.94,421.54 L486.99,422.48 L488.07,423.93 L489.25,424.86 L490.48,425.29 L491.67,425.87 L492.94,427.09 L494.39,426.76 L496,426.62 L497.67,426.77 L499.7,427.08 L502.02,426.92 L504.56,426.92 L505.88,427.05 L507.24,426.29 L508.61,426.08 L510,426.4 L511.41,425.61 L512.85,425.73 L514.33,424.96 L515.84,424.66 L517.4,424.18 L518.99,424.37 L520.61,423.48 L522.28,422.99 L523.98,422.61 L525.72,422.16 L527.49,421.45 L529.3,421.1 L531.21,420.85 L533.26,420.26 L535.41,419.11 L537.63,418.66 L539.89,418.11 L542.15,417.02 L544.38,416.1 L546.55,415.05 L548.62,414.99 L550.55,414.33 L552.33,413.15 L553.9,412.73 L555.28,412.89 L557.57,412.13 L559.39,411.64 L560.9,411.26 L562.27,411.02 L563.65,411.1 L565.17,410.7 L566.67,410.43 L568.1,409.76 L569.46,408.86 L570.77,408.3 L572,406.82 L573.18,405.57 L574.26,403.99 L575.28,402.05 L576.24,400.01 L576.71,398.76 L577.16,397.42 L577.61,395.91 L578.06,394.25 L578.5,392.38 L578.94,390.36 L579.37,388.1 L579.79,385.72 L580.2,383.16 L580.6,380.48 L580.99,377.68 L581.38,374.78 L581.76,371.8 L582.13,368.75 L582.49,365.66 L582.85,362.54 L583.2,359.4 L583.54,356.17 L583.87,352.8 L584.2,349.31 L584.51,345.72 L584.82,342.06 L585.12,338.37 L585.41,334.67 L585.7,330.99 L585.98,327.35 L586.26,323.79 L586.53,320.33 L586.8,317 L587.06,313.52 L587.31,309.69 L587.56,305.63 L587.79,301.48 L588.02,297.38 L588.25,293.46 L588.47,289.85 L588.7,286.7 L588.92,284.14 L589.14,282.28 L589.84,282.34 L590.08,284.34 L590.32,287.16 L590.56,290.68 L590.81,294.78 L591.05,299.36 L591.29,304.28 L591.53,309.43 L591.76,314.7 L591.98,319.96 L592.19,325.1 L592.4,330 L592.59,334.98 L592.78,340.36 L592.96,346.06 L593.13,351.98 L593.3,358 L593.46,364.04 L593.61,370 L593.77,375.77 L593.93,381.25 L594.08,386.35 L594.24,390.97 L594.4,395 L594.56,398.46 L594.72,401.46 L594.87,404.06 L595.02,406.32 L595.17,408.29 L595.32,410.05 L595.48,411.62 L595.63,413.09 L595.79,414.5 L595.96,415.92 L596.12,417.4 L596.3,419 L596.48,420.67 L596.67,422.3 L596.86,423.89 L597.06,425.43 L597.26,426.91 L597.46,428.35 L597.67,429.7 L597.87,430.99 L598.29,433.34 L598.7,435.31 L599.1,436.8 L599.7,438.29 L600.52,439.35 L601.62,440.56 L603.15,441.2 L604.4,441.16 L605.61,441.86 L607.07,442.14 L608.71,442.93 L610.44,443.94 L612.16,444.55 L613.8,445.57 L615.36,446.34 L616.9,446.88 L618.44,447.63 L620,448.92 L621.58,449.87 L623.2,450.48 L624.98,450.18 L626.95,450.55 L628.94,450.72 L630.8,450.89 L632.37,450.97 L633.5,450.83" fill="none" stroke="#404040" stroke-width="1.5" stroke-linejoin="round" stroke-linecap="round" />
<path d="M495.3,426.1 L495.99,426.06 L496.84,426.03 L497.82,425.99 L498.91,425.95 L500.11,425.9 L501.4,425.84 L502.75,425.78 L504.16,425.7 L505.61,425.6 L507.07,425.49 L508.54,425.35 L510,425.2 L511.51,425.02 L513.12,424.82 L514.82,424.6 L516.58,424.37 L518.37,424.11 L520.18,423.85 L521.98,423.57 L523.74,423.29 L525.45,423 L527.08,422.7 L528.6,422.4 L530,422.1 L531.27,421.8 L532.44,421.49 L533.53,421.17 L534.54,420.85 L535.5,420.52 L536.41,420.19 L537.3,419.84 L538.17,419.49 L539.04,419.13 L539.93,418.76 L540.84,418.39 L541.8,418 L542.79,417.59 L543.79,417.16 L544.81,416.71 L545.82,416.24 L546.84,415.76 L547.85,415.28 L548.85,414.81 L549.84,414.34 L550.82,413.89 L551.77,413.46 L552.7,413.06 L553.6,412.7 L554.48,412.37 L555.33,412.08 L556.17,411.81 L557,411.57 L557.81,411.34 L558.6,411.12 L559.38,410.91 L560.13,410.7 L560.88,410.47 L561.6,410.24 L562.31,409.98 L563,409.7 L563.68,409.4 L564.34,409.09 L565,408.77 L565.64,408.44 L566.26,408.1 L566.86,407.76 L567.45,407.41 L568.01,407.05 L568.55,406.69 L569.06,406.33 L569.54,405.97 L570,405.6 L570.42,405.23 L570.8,404.87 L571.14,404.5 L571.46,404.12 L571.75,403.74 L572.02,403.36 L572.28,402.97 L572.53,402.58 L572.79,402.17 L573.05,401.76 L573.31,401.34 L573.6,400.9 L573.9,400.46 L574.2,400.03 L574.5,399.61 L574.8,399.17 L575.1,398.73 L575.39,398.28 L575.69,397.81 L575.98,397.31 L576.27,396.79 L576.55,396.23 L576.83,395.64 L577.1,395 L577.36,394.36 L577.61,393.75 L577.86,393.15 L578.1,392.55 L578.34,391.91 L578.57,391.23 L578.8,390.48 L579.03,389.64 L579.27,388.69 L579.51,387.62 L579.75,386.39 L580,385 L580.25,383.47 L580.51,381.83 L580.77,380.09 L581.03,378.24 L581.29,376.29 L581.56,374.23 L581.82,372.05 L582.09,369.76 L582.36,367.35 L582.64,364.82 L582.92,362.17 L583.2,359.4 L583.49,356.42 L583.79,353.17 L584.09,349.7 L584.4,346.07 L584.71,342.32 L585.03,338.51 L585.34,334.67 L585.64,330.87 L585.95,327.16 L586.24,323.57 L586.53,320.17 L586.8,317 L587.06,313.81 L587.31,310.37 L587.56,306.8 L587.8,303.21 L588.03,299.7 L588.26,296.38 L588.48,293.36 L588.7,290.74 L588.93,288.64 L589.15,287.16 L589.37,286.41 L589.6,286.5 L589.83,287.47 L590.07,289.22 L590.3,291.67 L590.54,294.72 L590.77,298.29 L591.01,302.28 L591.24,306.6 L591.46,311.17 L591.68,315.88 L591.9,320.65 L592.1,325.39 L592.3,330 L592.49,334.8 L592.66,340.07 L592.83,345.71 L593,351.61 L593.15,357.66 L593.31,363.74 L593.46,369.76 L593.6,375.6 L593.75,381.16 L593.9,386.31 L594.05,390.96 L594.2,395 L594.35,398.44 L594.5,401.41 L594.65,403.98 L594.79,406.2 L594.93,408.13 L595.08,409.84 L595.22,411.37 L595.37,412.8 L595.52,414.18 L595.67,415.56 L595.83,417.02 L596,418.6 L596.17,420.26 L596.35,421.88 L596.54,423.48 L596.73,425.03 L596.92,426.53 L597.11,427.98 L597.31,429.35 L597.51,430.66 L597.71,431.88 L597.91,433.02 L598.1,434.06 L598.3,435 L598.5,435.82 L598.7,436.51 L598.9,437.1 L599.1,437.6 L599.3,438.01 L599.5,438.36 L599.7,438.65 L599.9,438.9 L600.1,439.13 L600.3,439.35 L600.5,439.57 L600.7,439.8 L600.9,440.02 L601.12,440.21 L601.34,440.36 L601.56,440.48 L601.78,440.58 L602,440.65 L602.21,440.71 L602.41,440.75 L602.59,440.79 L602.75,440.82 L602.89,440.86 L603,440.9" fill="none" stroke="#FF5A5C" stroke-width="1.9" stroke-linejoin="round" stroke-linecap="round" />
<rect x="48.3" y="529.8" width="251.2" height="203.6" fill="none" stroke="#000" stroke-width="2.4"/>
<line x1="48.3" y1="733.5" x2="51.5" y2="733.5" stroke="#000" stroke-width="1.7"/>
<text x="45.7" y="735.9" font-size="8.5" text-anchor="end" font-weight="bold" >4000</text>
<line x1="48.3" y1="703.95" x2="51.5" y2="703.95" stroke="#000" stroke-width="1.7"/>
<text x="45.7" y="706.35" font-size="8.5" text-anchor="end" font-weight="bold" >5000</text>
<line x1="48.3" y1="674.4" x2="51.5" y2="674.4" stroke="#000" stroke-width="1.7"/>
<text x="45.7" y="676.8" font-size="8.5" text-anchor="end" font-weight="bold" >6000</text>
<line x1="48.3" y1="644.85" x2="51.5" y2="644.85" stroke="#000" stroke-width="1.7"/>
<text x="45.7" y="647.25" font-size="8.5" text-anchor="end" font-weight="bold" >7000</text>
<line x1="48.3" y1="615.3" x2="51.5" y2="615.3" stroke="#000" stroke-width="1.7"/>
<text x="45.7" y="617.7" font-size="8.5" text-anchor="end" font-weight="bold" >8000</text>
<line x1="48.3" y1="585.75" x2="51.5" y2="585.75" stroke="#000" stroke-width="1.7"/>
<text x="45.7" y="588.15" font-size="8.5" text-anchor="end" font-weight="bold" >9000</text>
<line x1="48.3" y1="556.2" x2="51.5" y2="556.2" stroke="#000" stroke-width="1.7"/>
<text x="45.7" y="558.6" font-size="8.5" text-anchor="end" font-weight="bold" >10000</text>
<line x1="69.2" y1="733.4" x2="69.2" y2="730.2" stroke="#000" stroke-width="1.7"/>
<text x="69.2" y="743" font-size="8.5" text-anchor="middle" font-weight="bold" >536</text>
<line x1="111.26" y1="733.4" x2="111.26" y2="730.2" stroke="#000" stroke-width="1.7"/>
<text x="111.26" y="743" font-size="8.5" text-anchor="middle" font-weight="bold" >534</text>
<line x1="153.32" y1="733.4" x2="153.32" y2="730.2" stroke="#000" stroke-width="1.7"/>
<text x="153.32" y="743" font-size="8.5" text-anchor="middle" font-weight="bold" >532</text>
<line x1="195.38" y1="733.4" x2="195.38" y2="730.2" stroke="#000" stroke-width="1.7"/>
<text x="195.38" y="743" font-size="8.5" text-anchor="middle" font-weight="bold" >530</text>
<line x1="237.44" y1="733.4" x2="237.44" y2="730.2" stroke="#000" stroke-width="1.7"/>
<text x="237.44" y="743" font-size="8.5" text-anchor="middle" font-weight="bold" >528</text>
<line x1="279.5" y1="733.4" x2="279.5" y2="730.2" stroke="#000" stroke-width="1.7"/>
<text x="279.5" y="743" font-size="8.5" text-anchor="middle" font-weight="bold" >526</text>
<line x1="90.23" y1="733.4" x2="90.23" y2="731.6" stroke="#000" stroke-width="1"/>
<line x1="132.29" y1="733.4" x2="132.29" y2="731.6" stroke="#000" stroke-width="1"/>
<line x1="174.35" y1="733.4" x2="174.35" y2="731.6" stroke="#000" stroke-width="1"/>
<line x1="216.41" y1="733.4" x2="216.41" y2="731.6" stroke="#000" stroke-width="1"/>
<line x1="258.47" y1="733.4" x2="258.47" y2="731.6" stroke="#000" stroke-width="1"/>
<text x="174.1" y="761.7" font-size="13.5" text-anchor="middle" font-weight="bold" >Bind Energy (eV)</text>
<text x="16.6" y="631.6" font-size="13.7" text-anchor="middle" font-weight="bold" transform="rotate(-90 16.6 631.6)">Intensity (A.U.)</text>
<text x="18.5" y="522.8" font-size="20" text-anchor="start" font-weight="bold" >(d)</text>
<line x1="57.8" y1="541.6" x2="78" y2="541.6" stroke="#404040" stroke-width="1.8"/>
<text x="80" y="544.7" font-size="8.5" text-anchor="start" font-weight="bold" >Real value</text>
<line x1="57.8" y1="552.6" x2="78" y2="552.6" stroke="#70C4F8" stroke-width="1.8"/>
<text x="80" y="555.7" font-size="8.5" text-anchor="start" font-weight="bold" >O</text>
<line x1="57.8" y1="563.6" x2="78" y2="563.6" stroke="#55F055" stroke-width="1.8"/>
<text x="80" y="566.7" font-size="8.5" text-anchor="start" font-weight="bold" >O</text>
<line x1="57.8" y1="574.6" x2="78" y2="574.6" stroke="#0A7070" stroke-width="1.8"/>
<text x="80" y="577.7" font-size="8.5" text-anchor="start" font-weight="bold" >Background</text>
<line x1="57.8" y1="585.6" x2="78" y2="585.6" stroke="#FF6EC4" stroke-width="1.8"/>
<text x="80" y="588.7" font-size="8.5" text-anchor="start" font-weight="bold" >Fitted curve</text>
<text x="179" y="583.9" font-size="8.5" text-anchor="start" font-weight="bold" >O 1s</text>
<path d="M48.17,692.13 L48.59,692.13 L49.01,692.13 L49.43,692.13 L49.85,692.13 L50.27,692.13 L50.69,692.13 L51.11,692.13 L51.53,692.13 L51.96,692.13 L52.38,692.13 L52.8,692.13 L53.22,692.13 L53.64,692.13 L54.06,692.13 L54.48,692.13 L54.9,692.13 L55.32,692.13 L55.74,692.13 L56.16,692.13 L56.58,692.13 L57,692.13 L57.42,692.13 L57.84,692.13 L58.26,692.13 L58.68,692.13 L59.11,692.13 L59.53,692.13 L59.95,692.13 L60.37,692.13 L60.79,692.13 L61.21,692.13 L61.63,692.13 L62.05,692.13 L62.47,692.13 L62.89,692.13 L63.31,692.13 L63.73,692.13 L64.15,692.13 L64.57,692.13 L64.99,692.13 L65.41,692.13 L65.84,692.13 L66.26,692.13 L66.68,692.13 L67.1,692.13 L67.52,692.13 L67.94,692.13 L68.36,692.13 L68.78,692.13 L69.2,692.13 L69.62,692.13 L70.04,692.13 L70.46,692.13 L70.88,692.13 L71.3,692.13 L71.72,692.13 L72.14,692.13 L72.56,692.13 L72.99,692.13 L73.41,692.13 L73.83,692.13 L74.25,692.13 L74.67,692.13 L75.09,692.13 L75.51,692.13 L75.93,692.13 L76.35,692.13 L76.77,692.13 L77.19,692.13 L77.61,692.13 L78.03,692.13 L78.45,692.13 L78.87,692.13 L79.29,692.13 L79.71,692.13 L80.14,692.13 L80.56,692.13 L80.98,692.13 L81.4,692.13 L81.82,692.13 L82.24,692.13 L82.66,692.13 L83.08,692.13 L83.5,692.13 L83.92,692.13 L84.34,692.13 L84.76,692.13 L85.18,692.13 L85.6,692.13 L86.02,692.13 L86.44,692.13 L86.87,692.13 L87.29,692.13 L87.71,692.13 L88.13,692.13 L88.55,692.13 L88.97,692.13 L89.39,692.13 L89.81,692.13 L90.23,692.13 L90.65,692.13 L91.07,692.13 L91.49,692.13 L91.91,692.13 L92.33,692.13 L92.75,692.13 L93.17,692.13 L93.59,692.13 L94.02,692.13 L94.44,692.13 L94.86,692.13 L95.28,692.13 L95.7,692.13 L96.12,692.13 L96.54,692.13 L96.96,692.13 L97.38,692.13 L97.8,692.13 L98.22,692.13 L98.64,692.13 L99.06,692.13 L99.48,692.13 L99.9,692.13 L100.32,692.13 L100.74,692.13 L101.17,692.13 L101.59,692.13 L102.01,692.13 L102.43,692.13 L102.85,692.13 L103.27,692.13 L103.69,692.13 L104.11,692.13 L104.53,692.13 L104.95,692.13 L105.37,692.13 L105.79,692.13 L106.21,692.13 L106.63,692.13 L107.05,692.13 L107.47,692.13 L107.9,692.13 L108.32,692.13 L108.74,692.13 L109.16,692.13 L109.58,692.13 L110,692.13 L110.42,692.13 L110.84,692.13 L111.26,692.13 L111.68,692.13 L112.1,692.13 L112.52,692.13 L112.94,692.14 L113.36,692.14 L113.78,692.14 L114.2,692.14 L114.62,692.14 L115.05,692.14 L115.47,692.14 L115.89,692.14 L116.31,692.14 L116.73,692.14 L117.15,692.14 L117.57,692.14 L117.99,692.14 L118.41,692.15 L118.83,692.15 L119.25,692.15 L119.67,692.15 L120.09,692.15 L120.51,692.15 L120.93,692.15 L121.35,692.16 L121.77,692.16 L122.2,692.16 L122.62,692.16 L123.04,692.17 L123.46,692.17 L123.88,692.17 L124.3,692.18 L124.72,692.18 L125.14,692.18 L125.56,692.19 L125.98,692.19 L126.4,692.19 L126.82,692.2 L127.24,692.2 L127.66,692.21 L128.08,692.21 L128.5,692.22 L128.93,692.23 L129.35,692.23 L129.77,692.24 L130.19,692.25 L130.61,692.25 L131.03,692.26 L131.45,692.27 L131.87,692.28 L132.29,692.29 L132.71,692.3 L133.13,692.31 L133.55,692.32 L133.97,692.34 L134.39,692.35 L134.81,692.36 L135.23,692.37 L135.65,692.39 L136.08,692.41 L136.5,692.42 L136.92,692.44 L137.34,692.46 L137.76,692.47 L138.18,692.49 L138.6,692.51 L139.02,692.54 L139.44,692.56 L139.86,692.58 L140.28,692.61 L140.7,692.63 L141.12,692.66 L141.54,692.69 L141.96,692.72 L142.38,692.75 L142.8,692.78 L143.23,692.81 L143.65,692.84 L144.07,692.88 L144.49,692.92 L144.91,692.95 L145.33,692.99 L145.75,693.04 L146.17,693.08 L146.59,693.12 L147.01,693.17 L147.43,693.21 L147.85,693.26 L148.27,693.31 L148.69,693.37 L149.11,693.42 L149.53,693.48 L149.96,693.53 L150.38,693.59 L150.8,693.65 L151.22,693.71 L151.64,693.78 L152.06,693.85 L152.48,693.91 L152.9,693.98 L153.32,694.05 L153.74,694.13 L154.16,694.2 L154.58,694.28 L155,694.36 L155.42,694.44 L155.84,694.52 L156.26,694.61 L156.68,694.7 L157.11,694.78 L157.53,694.87 L157.95,694.97 L158.37,695.06 L158.79,695.16 L159.21,695.25 L159.63,695.35 L160.05,695.45 L160.47,695.56 L160.89,695.66 L161.31,695.77 L161.73,695.87 L162.15,695.98 L162.57,696.09 L162.99,696.21 L163.41,696.32 L163.83,696.43 L164.26,696.55 L164.68,696.67 L165.1,696.79 L165.52,696.91 L165.94,697.03 L166.36,697.15 L166.78,697.28 L167.2,697.4 L167.62,697.53 L168.04,697.65 L168.46,697.78 L168.88,697.91 L169.3,698.04 L169.72,698.17 L170.14,698.3 L170.56,698.43 L170.99,698.56 L171.41,698.69 L171.83,698.82 L172.25,698.95 L172.67,699.09 L173.09,699.22 L173.51,699.35 L173.93,699.48 L174.35,699.62 L174.77,699.75 L175.19,699.88 L175.61,700.01 L176.03,700.15 L176.45,700.28 L176.87,700.41 L177.29,700.54 L177.71,700.67 L178.14,700.8 L178.56,700.93 L178.98,701.06 L179.4,701.19 L179.82,701.31 L180.24,701.44 L180.66,701.57 L181.08,701.69 L181.5,701.81 L181.92,701.94 L182.34,702.06 L182.76,702.18 L183.18,702.3 L183.6,702.42 L184.02,702.54 L184.44,702.66 L184.86,702.78 L185.29,702.89 L185.71,703.01 L186.13,703.12 L186.55,703.23 L186.97,703.34 L187.39,703.45 L187.81,703.56 L188.23,703.67 L188.65,703.77 L189.07,703.88 L189.49,703.98 L189.91,704.09 L190.33,704.19 L190.75,704.29 L191.17,704.39 L191.59,704.49 L192.02,704.59 L192.44,704.68 L192.86,704.78 L193.28,704.87 L193.7,704.96 L194.12,705.06 L194.54,705.15 L194.96,705.24 L195.38,705.32 L195.8,705.41 L196.22,705.5 L196.64,705.58 L197.06,705.67 L197.48,705.75 L197.9,705.83 L198.32,705.91 L198.74,705.99 L199.17,706.07 L199.59,706.15 L200.01,706.23 L200.43,706.3 L200.85,706.38 L201.27,706.45 L201.69,706.52 L202.11,706.59 L202.53,706.66 L202.95,706.73 L203.37,706.8 L203.79,706.87 L204.21,706.94 L204.63,707 L205.05,707.07 L205.47,707.13 L205.89,707.19 L206.32,707.25 L206.74,707.31 L207.16,707.37 L207.58,707.43 L208,707.49 L208.42,707.54 L208.84,707.6 L209.26,707.65 L209.68,707.71 L210.1,707.76 L210.52,707.81 L210.94,707.86 L211.36,707.91 L211.78,707.95 L212.2,708 L212.62,708.05 L213.05,708.09 L213.47,708.13 L213.89,708.18 L214.31,708.22 L214.73,708.26 L215.15,708.3 L215.57,708.34 L215.99,708.37 L216.41,708.41 L216.83,708.44 L217.25,708.48 L217.67,708.51 L218.09,708.54 L218.51,708.58 L218.93,708.61 L219.35,708.64 L219.77,708.66 L220.2,708.69 L220.62,708.72 L221.04,708.74 L221.46,708.77 L221.88,708.79 L222.3,708.81 L222.72,708.84 L223.14,708.86 L223.56,708.88 L223.98,708.9 L224.4,708.92 L224.82,708.94 L225.24,708.95 L225.66,708.97 L226.08,708.99 L226.5,709 L226.92,709.02 L227.35,709.03 L227.77,709.04 L228.19,709.06 L228.61,709.07 L229.03,709.08 L229.45,709.09 L229.87,709.1 L230.29,709.11 L230.71,709.12 L231.13,709.13 L231.55,709.14 L231.97,709.15 L232.39,709.15 L232.81,709.16 L233.23,709.17 L233.65,709.18 L234.08,709.18 L234.5,709.19 L234.92,709.19 L235.34,709.2 L235.76,709.2 L236.18,709.21 L236.6,709.21 L237.02,709.22 L237.44,709.22 L237.86,709.22 L238.28,709.23 L238.7,709.23 L239.12,709.23 L239.54,709.24 L239.96,709.24 L240.38,709.24 L240.8,709.24 L241.23,709.24 L241.65,709.25 L242.07,709.25 L242.49,709.25 L242.91,709.25 L243.33,709.25 L243.75,709.25 L244.17,709.26 L244.59,709.26 L245.01,709.26 L245.43,709.26 L245.85,709.26 L246.27,709.26 L246.69,709.26 L247.11,709.26 L247.53,709.26 L247.95,709.26 L248.38,709.26 L248.8,709.26 L249.22,709.26 L249.64,709.26 L250.06,709.27 L250.48,709.27 L250.9,709.27 L251.32,709.27 L251.74,709.27 L252.16,709.27 L252.58,709.27 L253,709.27 L253.42,709.27 L253.84,709.27 L254.26,709.27 L254.68,709.27 L255.11,709.27 L255.53,709.27 L255.95,709.27 L256.37,709.27 L256.79,709.27 L257.21,709.27 L257.63,709.27 L258.05,709.27 L258.47,709.27 L258.89,709.27 L259.31,709.27 L259.73,709.27 L260.15,709.27 L260.57,709.27 L260.99,709.27 L261.41,709.27 L261.83,709.27 L262.26,709.27 L262.68,709.27 L263.1,709.27 L263.52,709.27 L263.94,709.27 L264.36,709.27 L264.78,709.27 L265.2,709.27 L265.62,709.27 L266.04,709.27 L266.46,709.27 L266.88,709.27 L267.3,709.27 L267.72,709.27 L268.14,709.27 L268.56,709.27 L268.98,709.27 L269.41,709.27 L269.83,709.27 L270.25,709.27 L270.67,709.27 L271.09,709.27 L271.51,709.27 L271.93,709.27 L272.35,709.27 L272.77,709.27 L273.19,709.27 L273.61,709.27 L274.03,709.27 L274.45,709.27 L274.87,709.27 L275.29,709.27 L275.71,709.27 L276.14,709.27 L276.56,709.27 L276.98,709.27 L277.4,709.27 L277.82,709.27 L278.24,709.27 L278.66,709.27 L279.08,709.27 L279.5,709.27 L279.92,709.27 L280.34,709.27 L280.76,709.27 L281.18,709.27 L281.6,709.27 L282.02,709.27 L282.44,709.27 L282.86,709.27 L283.29,709.27 L283.71,709.27 L284.13,709.27 L284.55,709.27 L284.97,709.27 L285.39,709.27 L285.81,709.27 L286.23,709.27 L286.65,709.27 L287.07,709.27 L287.49,709.27 L287.91,709.27 L288.33,709.27 L288.75,709.27 L289.17,709.27 L289.59,709.27 L290.01,709.27 L290.44,709.27 L290.86,709.27 L291.28,709.27 L291.7,709.27 L292.12,709.27 L292.54,709.27 L292.96,709.27 L293.38,709.27 L293.8,709.27 L294.22,709.27 L294.64,709.27 L295.06,709.27 L295.48,709.27 L295.9,709.27 L296.32,709.27 L296.74,709.27 L297.17,709.27 L297.59,709.27 L298.01,709.27 L298.43,709.27 L298.85,709.27 L299.27,709.27 L299.69,709.27 L300.11,709.27 L300.53,709.27" fill="none" stroke="#0A7070" stroke-width="1.6" stroke-linejoin="round" stroke-linecap="round" />
<path d="M48.17,692.13 L48.59,692.13 L49.01,692.13 L49.43,692.13 L49.85,692.13 L50.27,692.13 L50.69,692.13 L51.11,692.13 L51.53,692.13 L51.96,692.13 L52.38,692.13 L52.8,692.13 L53.22,692.13 L53.64,692.13 L54.06,692.13 L54.48,692.13 L54.9,692.13 L55.32,692.13 L55.74,692.13 L56.16,692.13 L56.58,692.13 L57,692.13 L57.42,692.13 L57.84,692.13 L58.26,692.13 L58.68,692.13 L59.11,692.13 L59.53,692.13 L59.95,692.13 L60.37,692.13 L60.79,692.13 L61.21,692.13 L61.63,692.13 L62.05,692.13 L62.47,692.13 L62.89,692.13 L63.31,692.13 L63.73,692.13 L64.15,692.13 L64.57,692.13 L64.99,692.13 L65.41,692.13 L65.84,692.13 L66.26,692.13 L66.68,692.13 L67.1,692.13 L67.52,692.13 L67.94,692.13 L68.36,692.13 L68.78,692.13 L69.2,692.13 L69.62,692.13 L70.04,692.13 L70.46,692.13 L70.88,692.13 L71.3,692.13 L71.72,692.13 L72.14,692.13 L72.56,692.13 L72.99,692.13 L73.41,692.13 L73.83,692.13 L74.25,692.13 L74.67,692.13 L75.09,692.13 L75.51,692.13 L75.93,692.13 L76.35,692.13 L76.77,692.13 L77.19,692.13 L77.61,692.13 L78.03,692.13 L78.45,692.13 L78.87,692.13 L79.29,692.13 L79.71,692.13 L80.14,692.13 L80.56,692.13 L80.98,692.13 L81.4,692.13 L81.82,692.13 L82.24,692.13 L82.66,692.13 L83.08,692.13 L83.5,692.13 L83.92,692.13 L84.34,692.13 L84.76,692.13 L85.18,692.13 L85.6,692.13 L86.02,692.13 L86.44,692.13 L86.87,692.13 L87.29,692.13 L87.71,692.13 L88.13,692.13 L88.55,692.13 L88.97,692.13 L89.39,692.13 L89.81,692.13 L90.23,692.13 L90.65,692.13 L91.07,692.13 L91.49,692.13 L91.91,692.13 L92.33,692.13 L92.75,692.13 L93.17,692.13 L93.59,692.13 L94.02,692.12 L94.44,692.12 L94.86,692.12 L95.28,692.12 L95.7,692.12 L96.12,692.12 L96.54,692.12 L96.96,692.12 L97.38,692.12 L97.8,692.12 L98.22,692.12 L98.64,692.11 L99.06,692.11 L99.48,692.11 L99.9,692.11 L100.32,692.11 L100.74,692.1 L101.17,692.1 L101.59,692.1 L102.01,692.09 L102.43,692.09 L102.85,692.09 L103.27,692.08 L103.69,692.08 L104.11,692.07 L104.53,692.07 L104.95,692.06 L105.37,692.06 L105.79,692.05 L106.21,692.04 L106.63,692.03 L107.05,692.03 L107.47,692.02 L107.9,692.01 L108.32,691.99 L108.74,691.98 L109.16,691.97 L109.58,691.95 L110,691.94 L110.42,691.92 L110.84,691.9 L111.26,691.89 L111.68,691.86 L112.1,691.84 L112.52,691.82 L112.94,691.79 L113.36,691.76 L113.78,691.73 L114.2,691.7 L114.62,691.67 L115.05,691.63 L115.47,691.59 L115.89,691.55 L116.31,691.5 L116.73,691.45 L117.15,691.4 L117.57,691.34 L117.99,691.28 L118.41,691.22 L118.83,691.15 L119.25,691.08 L119.67,691 L120.09,690.92 L120.51,690.83 L120.93,690.74 L121.35,690.64 L121.77,690.53 L122.2,690.42 L122.62,690.3 L123.04,690.18 L123.46,690.04 L123.88,689.9 L124.3,689.75 L124.72,689.6 L125.14,689.43 L125.56,689.25 L125.98,689.07 L126.4,688.87 L126.82,688.67 L127.24,688.45 L127.66,688.22 L128.08,687.98 L128.5,687.73 L128.93,687.46 L129.35,687.19 L129.77,686.89 L130.19,686.59 L130.61,686.27 L131.03,685.93 L131.45,685.58 L131.87,685.21 L132.29,684.83 L132.71,684.43 L133.13,684.01 L133.55,683.58 L133.97,683.12 L134.39,682.65 L134.81,682.16 L135.23,681.65 L135.65,681.12 L136.08,680.57 L136.5,679.99 L136.92,679.4 L137.34,678.79 L137.76,678.15 L138.18,677.49 L138.6,676.81 L139.02,676.11 L139.44,675.39 L139.86,674.64 L140.28,673.87 L140.7,673.07 L141.12,672.26 L141.54,671.42 L141.96,670.55 L142.38,669.67 L142.8,668.76 L143.23,667.82 L143.65,666.87 L144.07,665.89 L144.49,664.89 L144.91,663.87 L145.33,662.83 L145.75,661.76 L146.17,660.68 L146.59,659.57 L147.01,658.44 L147.43,657.3 L147.85,656.14 L148.27,654.96 L148.69,653.76 L149.11,652.55 L149.53,651.32 L149.96,650.08 L150.38,648.83 L150.8,647.56 L151.22,646.29 L151.64,645 L152.06,643.71 L152.48,642.41 L152.9,641.1 L153.32,639.79 L153.74,638.48 L154.16,637.17 L154.58,635.85 L155,634.54 L155.42,633.23 L155.84,631.93 L156.26,630.63 L156.68,629.34 L157.11,628.07 L157.53,626.8 L157.95,625.55 L158.37,624.31 L158.79,623.09 L159.21,621.89 L159.63,620.71 L160.05,619.55 L160.47,618.42 L160.89,617.31 L161.31,616.23 L161.73,615.18 L162.15,614.16 L162.57,613.17 L162.99,612.22 L163.41,611.31 L163.83,610.43 L164.26,609.59 L164.68,608.79 L165.1,608.03 L165.52,607.32 L165.94,606.65 L166.36,606.03 L166.78,605.45 L167.2,604.92 L167.62,604.44 L168.04,604.01 L168.46,603.63 L168.88,603.31 L169.3,603.03 L169.72,602.81 L170.14,602.64 L170.56,602.53 L170.99,602.47 L171.41,602.47 L171.83,602.52 L172.25,602.62 L172.67,602.78 L173.09,602.99 L173.51,603.26 L173.93,603.59 L174.35,603.96 L174.77,604.39 L175.19,604.88 L175.61,605.41 L176.03,606 L176.45,606.64 L176.87,607.32 L177.29,608.06 L177.71,608.84 L178.14,609.67 L178.56,610.55 L178.98,611.47 L179.4,612.43 L179.82,613.43 L180.24,614.48 L180.66,615.56 L181.08,616.68 L181.5,617.83 L181.92,619.02 L182.34,620.24 L182.76,621.49 L183.18,622.77 L183.6,624.07 L184.02,625.4 L184.44,626.76 L184.86,628.13 L185.29,629.53 L185.71,630.94 L186.13,632.37 L186.55,633.81 L186.97,635.27 L187.39,636.73 L187.81,638.21 L188.23,639.69 L188.65,641.18 L189.07,642.67 L189.49,644.16 L189.91,645.66 L190.33,647.15 L190.75,648.64 L191.17,650.13 L191.59,651.61 L192.02,653.08 L192.44,654.55 L192.86,656 L193.28,657.44 L193.7,658.88 L194.12,660.29 L194.54,661.7 L194.96,663.08 L195.38,664.45 L195.8,665.81 L196.22,667.14 L196.64,668.46 L197.06,669.75 L197.48,671.03 L197.9,672.28 L198.32,673.51 L198.74,674.72 L199.17,675.9 L199.59,677.06 L200.01,678.2 L200.43,679.31 L200.85,680.4 L201.27,681.46 L201.69,682.5 L202.11,683.51 L202.53,684.5 L202.95,685.46 L203.37,686.4 L203.79,687.31 L204.21,688.2 L204.63,689.06 L205.05,689.89 L205.47,690.7 L205.89,691.49 L206.32,692.25 L206.74,692.99 L207.16,693.7 L207.58,694.39 L208,695.06 L208.42,695.7 L208.84,696.33 L209.26,696.93 L209.68,697.5 L210.1,698.06 L210.52,698.6 L210.94,699.11 L211.36,699.61 L211.78,700.08 L212.2,700.54 L212.62,700.98 L213.05,701.4 L213.47,701.8 L213.89,702.19 L214.31,702.56 L214.73,702.91 L215.15,703.25 L215.57,703.57 L215.99,703.88 L216.41,704.18 L216.83,704.46 L217.25,704.73 L217.67,704.98 L218.09,705.22 L218.51,705.45 L218.93,705.67 L219.35,705.88 L219.77,706.08 L220.2,706.27 L220.62,706.45 L221.04,706.62 L221.46,706.78 L221.88,706.93 L222.3,707.07 L222.72,707.21 L223.14,707.34 L223.56,707.46 L223.98,707.58 L224.4,707.68 L224.82,707.79 L225.24,707.88 L225.66,707.97 L226.08,708.06 L226.5,708.14 L226.92,708.22 L227.35,708.29 L227.77,708.35 L228.19,708.42 L228.61,708.47 L229.03,708.53 L229.45,708.58 L229.87,708.63 L230.29,708.68 L230.71,708.72 L231.13,708.76 L231.55,708.79 L231.97,708.83 L232.39,708.86 L232.81,708.89 L233.23,708.92 L233.65,708.95 L234.08,708.97 L234.5,708.99 L234.92,709.01 L235.34,709.03 L235.76,709.05 L236.18,709.07 L236.6,709.09 L237.02,709.1 L237.44,709.11 L237.86,709.13 L238.28,709.14 L238.7,709.15 L239.12,709.16 L239.54,709.17 L239.96,709.18 L240.38,709.18 L240.8,709.19 L241.23,709.2 L241.65,709.2 L242.07,709.21 L242.49,709.21 L242.91,709.22 L243.33,709.22 L243.75,709.23 L244.17,709.23 L244.59,709.23 L245.01,709.24 L245.43,709.24 L245.85,709.24 L246.27,709.25 L246.69,709.25 L247.11,709.25 L247.53,709.25 L247.95,709.25 L248.38,709.25 L248.8,709.26 L249.22,709.26 L249.64,709.26 L250.06,709.26 L250.48,709.26 L250.9,709.26 L251.32,709.26 L251.74,709.26 L252.16,709.26 L252.58,709.26 L253,709.26 L253.42,709.26 L253.84,709.27 L254.26,709.27 L254.68,709.27 L255.11,709.27 L255.53,709.27 L255.95,709.27 L256.37,709.27 L256.79,709.27 L257.21,709.27 L257.63,709.27 L258.05,709.27 L258.47,709.27 L258.89,709.27 L259.31,709.27 L259.73,709.27 L260.15,709.27 L260.57,709.27 L260.99,709.27 L261.41,709.27 L261.83,709.27 L262.26,709.27 L262.68,709.27 L263.1,709.27 L263.52,709.27 L263.94,709.27 L264.36,709.27 L264.78,709.27 L265.2,709.27 L265.62,709.27 L266.04,709.27 L266.46,709.27 L266.88,709.27 L267.3,709.27 L267.72,709.27 L268.14,709.27 L268.56,709.27 L268.98,709.27 L269.41,709.27 L269.83,709.27 L270.25,709.27 L270.67,709.27 L271.09,709.27 L271.51,709.27 L271.93,709.27 L272.35,709.27 L272.77,709.27 L273.19,709.27 L273.61,709.27 L274.03,709.27 L274.45,709.27 L274.87,709.27 L275.29,709.27 L275.71,709.27 L276.14,709.27 L276.56,709.27 L276.98,709.27 L277.4,709.27 L277.82,709.27 L278.24,709.27 L278.66,709.27 L279.08,709.27 L279.5,709.27 L279.92,709.27 L280.34,709.27 L280.76,709.27 L281.18,709.27 L281.6,709.27 L282.02,709.27 L282.44,709.27 L282.86,709.27 L283.29,709.27 L283.71,709.27 L284.13,709.27 L284.55,709.27 L284.97,709.27 L285.39,709.27 L285.81,709.27 L286.23,709.27 L286.65,709.27 L287.07,709.27 L287.49,709.27 L287.91,709.27 L288.33,709.27 L288.75,709.27 L289.17,709.27 L289.59,709.27 L290.01,709.27 L290.44,709.27 L290.86,709.27 L291.28,709.27 L291.7,709.27 L292.12,709.27 L292.54,709.27 L292.96,709.27 L293.38,709.27 L293.8,709.27 L294.22,709.27 L294.64,709.27 L295.06,709.27 L295.48,709.27 L295.9,709.27 L296.32,709.27 L296.74,709.27 L297.17,709.27 L297.59,709.27 L298.01,709.27 L298.43,709.27 L298.85,709.27 L299.27,709.27 L299.69,709.27 L300.11,709.27 L300.53,709.27" fill="none" stroke="#70C4F8" stroke-width="1.6" stroke-linejoin="round" stroke-linecap="round" />
<path d="M48.17,692.13 L48.59,692.13 L49.01,692.13 L49.43,692.13 L49.85,692.13 L50.27,692.13 L50.69,692.13 L51.11,692.13 L51.53,692.13 L51.96,692.13 L52.38,692.13 L52.8,692.13 L53.22,692.13 L53.64,692.13 L54.06,692.13 L54.48,692.13 L54.9,692.13 L55.32,692.13 L55.74,692.13 L56.16,692.13 L56.58,692.13 L57,692.13 L57.42,692.13 L57.84,692.13 L58.26,692.13 L58.68,692.13 L59.11,692.13 L59.53,692.13 L59.95,692.13 L60.37,692.13 L60.79,692.13 L61.21,692.13 L61.63,692.13 L62.05,692.13 L62.47,692.13 L62.89,692.13 L63.31,692.13 L63.73,692.13 L64.15,692.13 L64.57,692.13 L64.99,692.13 L65.41,692.13 L65.84,692.13 L66.26,692.13 L66.68,692.13 L67.1,692.13 L67.52,692.13 L67.94,692.13 L68.36,692.13 L68.78,692.13 L69.2,692.13 L69.62,692.13 L70.04,692.13 L70.46,692.13 L70.88,692.13 L71.3,692.13 L71.72,692.13 L72.14,692.13 L72.56,692.13 L72.99,692.13 L73.41,692.13 L73.83,692.13 L74.25,692.13 L74.67,692.13 L75.09,692.13 L75.51,692.13 L75.93,692.13 L76.35,692.13 L76.77,692.13 L77.19,692.13 L77.61,692.13 L78.03,692.13 L78.45,692.13 L78.87,692.13 L79.29,692.13 L79.71,692.13 L80.14,692.13 L80.56,692.13 L80.98,692.13 L81.4,692.13 L81.82,692.13 L82.24,692.13 L82.66,692.13 L83.08,692.13 L83.5,692.13 L83.92,692.13 L84.34,692.13 L84.76,692.13 L85.18,692.13 L85.6,692.13 L86.02,692.13 L86.44,692.13 L86.87,692.13 L87.29,692.13 L87.71,692.13 L88.13,692.13 L88.55,692.13 L88.97,692.13 L89.39,692.13 L89.81,692.13 L90.23,692.13 L90.65,692.13 L91.07,692.13 L91.49,692.13 L91.91,692.13 L92.33,692.13 L92.75,692.13 L93.17,692.13 L93.59,692.13 L94.02,692.13 L94.44,692.13 L94.86,692.13 L95.28,692.13 L95.7,692.13 L96.12,692.13 L96.54,692.13 L96.96,692.13 L97.38,692.13 L97.8,692.13 L98.22,692.13 L98.64,692.13 L99.06,692.13 L99.48,692.13 L99.9,692.13 L100.32,692.13 L100.74,692.13 L101.17,692.13 L101.59,692.13 L102.01,692.13 L102.43,692.13 L102.85,692.13 L103.27,692.13 L103.69,692.13 L104.11,692.13 L104.53,692.13 L104.95,692.13 L105.37,692.13 L105.79,692.13 L106.21,692.13 L106.63,692.13 L107.05,692.13 L107.47,692.13 L107.9,692.13 L108.32,692.13 L108.74,692.13 L109.16,692.13 L109.58,692.13 L110,692.13 L110.42,692.13 L110.84,692.13 L111.26,692.13 L111.68,692.13 L112.1,692.13 L112.52,692.13 L112.94,692.14 L113.36,692.14 L113.78,692.14 L114.2,692.14 L114.62,692.14 L115.05,692.14 L115.47,692.14 L115.89,692.14 L116.31,692.14 L116.73,692.14 L117.15,692.14 L117.57,692.14 L117.99,692.14 L118.41,692.15 L118.83,692.15 L119.25,692.15 L119.67,692.15 L120.09,692.15 L120.51,692.15 L120.93,692.15 L121.35,692.16 L121.77,692.16 L122.2,692.16 L122.62,692.16 L123.04,692.17 L123.46,692.17 L123.88,692.17 L124.3,692.17 L124.72,692.18 L125.14,692.18 L125.56,692.19 L125.98,692.19 L126.4,692.19 L126.82,692.2 L127.24,692.2 L127.66,692.21 L128.08,692.21 L128.5,692.22 L128.93,692.23 L129.35,692.23 L129.77,692.24 L130.19,692.25 L130.61,692.25 L131.03,692.26 L131.45,692.27 L131.87,692.28 L132.29,692.29 L132.71,692.3 L133.13,692.31 L133.55,692.32 L133.97,692.33 L134.39,692.35 L134.81,692.36 L135.23,692.37 L135.65,692.39 L136.08,692.4 L136.5,692.42 L136.92,692.44 L137.34,692.46 L137.76,692.47 L138.18,692.49 L138.6,692.51 L139.02,692.53 L139.44,692.56 L139.86,692.58 L140.28,692.6 L140.7,692.63 L141.12,692.66 L141.54,692.68 L141.96,692.71 L142.38,692.74 L142.8,692.77 L143.23,692.81 L143.65,692.84 L144.07,692.87 L144.49,692.91 L144.91,692.95 L145.33,692.99 L145.75,693.03 L146.17,693.07 L146.59,693.11 L147.01,693.15 L147.43,693.2 L147.85,693.25 L148.27,693.3 L148.69,693.34 L149.11,693.4 L149.53,693.45 L149.96,693.5 L150.38,693.56 L150.8,693.62 L151.22,693.67 L151.64,693.73 L152.06,693.8 L152.48,693.86 L152.9,693.92 L153.32,693.99 L153.74,694.05 L154.16,694.12 L154.58,694.19 L155,694.26 L155.42,694.33 L155.84,694.4 L156.26,694.48 L156.68,694.55 L157.11,694.62 L157.53,694.7 L157.95,694.77 L158.37,694.85 L158.79,694.93 L159.21,695 L159.63,695.08 L160.05,695.15 L160.47,695.23 L160.89,695.31 L161.31,695.38 L161.73,695.45 L162.15,695.53 L162.57,695.6 L162.99,695.67 L163.41,695.74 L163.83,695.8 L164.26,695.87 L164.68,695.93 L165.1,695.99 L165.52,696.04 L165.94,696.1 L166.36,696.15 L166.78,696.19 L167.2,696.24 L167.62,696.27 L168.04,696.31 L168.46,696.34 L168.88,696.36 L169.3,696.38 L169.72,696.39 L170.14,696.39 L170.56,696.39 L170.99,696.38 L171.41,696.37 L171.83,696.35 L172.25,696.32 L172.67,696.28 L173.09,696.23 L173.51,696.17 L173.93,696.11 L174.35,696.03 L174.77,695.95 L175.19,695.85 L175.61,695.75 L176.03,695.64 L176.45,695.51 L176.87,695.37 L177.29,695.23 L177.71,695.07 L178.14,694.9 L178.56,694.71 L178.98,694.52 L179.4,694.31 L179.82,694.1 L180.24,693.87 L180.66,693.63 L181.08,693.37 L181.5,693.11 L181.92,692.83 L182.34,692.54 L182.76,692.24 L183.18,691.93 L183.6,691.61 L184.02,691.28 L184.44,690.94 L184.86,690.59 L185.29,690.23 L185.71,689.85 L186.13,689.48 L186.55,689.09 L186.97,688.7 L187.39,688.29 L187.81,687.89 L188.23,687.47 L188.65,687.06 L189.07,686.64 L189.49,686.21 L189.91,685.78 L190.33,685.36 L190.75,684.93 L191.17,684.5 L191.59,684.07 L192.02,683.64 L192.44,683.22 L192.86,682.8 L193.28,682.39 L193.7,681.98 L194.12,681.58 L194.54,681.18 L194.96,680.8 L195.38,680.43 L195.8,680.06 L196.22,679.71 L196.64,679.37 L197.06,679.04 L197.48,678.73 L197.9,678.44 L198.32,678.16 L198.74,677.9 L199.17,677.65 L199.59,677.43 L200.01,677.22 L200.43,677.04 L200.85,676.87 L201.27,676.73 L201.69,676.6 L202.11,676.5 L202.53,676.43 L202.95,676.37 L203.37,676.34 L203.79,676.33 L204.21,676.35 L204.63,676.39 L205.05,676.46 L205.47,676.54 L205.89,676.66 L206.32,676.79 L206.74,676.95 L207.16,677.13 L207.58,677.34 L208,677.57 L208.42,677.82 L208.84,678.09 L209.26,678.39 L209.68,678.7 L210.1,679.04 L210.52,679.39 L210.94,679.76 L211.36,680.15 L211.78,680.56 L212.2,680.98 L212.62,681.42 L213.05,681.88 L213.47,682.35 L213.89,682.83 L214.31,683.32 L214.73,683.82 L215.15,684.34 L215.57,684.86 L215.99,685.39 L216.41,685.93 L216.83,686.47 L217.25,687.02 L217.67,687.57 L218.09,688.13 L218.51,688.68 L218.93,689.24 L219.35,689.8 L219.77,690.36 L220.2,690.92 L220.62,691.47 L221.04,692.03 L221.46,692.57 L221.88,693.12 L222.3,693.66 L222.72,694.19 L223.14,694.72 L223.56,695.24 L223.98,695.75 L224.4,696.25 L224.82,696.75 L225.24,697.23 L225.66,697.71 L226.08,698.18 L226.5,698.63 L226.92,699.08 L227.35,699.51 L227.77,699.94 L228.19,700.35 L228.61,700.75 L229.03,701.14 L229.45,701.52 L229.87,701.88 L230.29,702.24 L230.71,702.58 L231.13,702.91 L231.55,703.23 L231.97,703.54 L232.39,703.84 L232.81,704.13 L233.23,704.4 L233.65,704.67 L234.08,704.92 L234.5,705.16 L234.92,705.39 L235.34,705.62 L235.76,705.83 L236.18,706.03 L236.6,706.22 L237.02,706.41 L237.44,706.58 L237.86,706.75 L238.28,706.91 L238.7,707.06 L239.12,707.2 L239.54,707.33 L239.96,707.46 L240.38,707.58 L240.8,707.69 L241.23,707.8 L241.65,707.9 L242.07,708 L242.49,708.09 L242.91,708.17 L243.33,708.25 L243.75,708.32 L244.17,708.39 L244.59,708.46 L245.01,708.52 L245.43,708.57 L245.85,708.63 L246.27,708.68 L246.69,708.72 L247.11,708.77 L247.53,708.81 L247.95,708.84 L248.38,708.88 L248.8,708.91 L249.22,708.94 L249.64,708.97 L250.06,708.99 L250.48,709.01 L250.9,709.04 L251.32,709.06 L251.74,709.07 L252.16,709.09 L252.58,709.11 L253,709.12 L253.42,709.14 L253.84,709.15 L254.26,709.16 L254.68,709.17 L255.11,709.18 L255.53,709.19 L255.95,709.19 L256.37,709.2 L256.79,709.21 L257.21,709.21 L257.63,709.22 L258.05,709.22 L258.47,709.23 L258.89,709.23 L259.31,709.24 L259.73,709.24 L260.15,709.24 L260.57,709.25 L260.99,709.25 L261.41,709.25 L261.83,709.25 L262.26,709.25 L262.68,709.26 L263.1,709.26 L263.52,709.26 L263.94,709.26 L264.36,709.26 L264.78,709.26 L265.2,709.26 L265.62,709.26 L266.04,709.26 L266.46,709.26 L266.88,709.26 L267.3,709.27 L267.72,709.27 L268.14,709.27 L268.56,709.27 L268.98,709.27 L269.41,709.27 L269.83,709.27 L270.25,709.27 L270.67,709.27 L271.09,709.27 L271.51,709.27 L271.93,709.27 L272.35,709.27 L272.77,709.27 L273.19,709.27 L273.61,709.27 L274.03,709.27 L274.45,709.27 L274.87,709.27 L275.29,709.27 L275.71,709.27 L276.14,709.27 L276.56,709.27 L276.98,709.27 L277.4,709.27 L277.82,709.27 L278.24,709.27 L278.66,709.27 L279.08,709.27 L279.5,709.27 L279.92,709.27 L280.34,709.27 L280.76,709.27 L281.18,709.27 L281.6,709.27 L282.02,709.27 L282.44,709.27 L282.86,709.27 L283.29,709.27 L283.71,709.27 L284.13,709.27 L284.55,709.27 L284.97,709.27 L285.39,709.27 L285.81,709.27 L286.23,709.27 L286.65,709.27 L287.07,709.27 L287.49,709.27 L287.91,709.27 L288.33,709.27 L288.75,709.27 L289.17,709.27 L289.59,709.27 L290.01,709.27 L290.44,709.27 L290.86,709.27 L291.28,709.27 L291.7,709.27 L292.12,709.27 L292.54,709.27 L292.96,709.27 L293.38,709.27 L293.8,709.27 L294.22,709.27 L294.64,709.27 L295.06,709.27 L295.48,709.27 L295.9,709.27 L296.32,709.27 L296.74,709.27 L297.17,709.27 L297.59,709.27 L298.01,709.27 L298.43,709.27 L298.85,709.27 L299.27,709.27 L299.69,709.27 L300.11,709.27 L300.53,709.27" fill="none" stroke="#55F055" stroke-width="1.6" stroke-linejoin="round" stroke-linecap="round" />
<path d="M48.5,692 L49.1,693.9 L51.1,689.8 L53.2,692.9 L55.2,688.8 L57.2,692.9 L60.3,683.7 L62.3,693.9 L65.4,701 L67.4,693.9 L71.5,679.6 L74.6,689.8 L76.6,686.7 L78.7,689.8 L80.7,685.7 L82.8,693.9 L84.8,688.8 L87.9,695.9 L90.9,691.8 L94,684.7 L96,690.8 L98.1,686.7 L100.1,688.8 L103.2,685.7 L106.2,698 L110.3,686.7 L113.4,683.7 L115.4,695.9 L118.5,689.8 L121.5,698 L124.6,686.7 L127.7,673.5 L130.3,684.7 L133.8,676.5 L138.9,674.5 L142,671 L145.7,664.7 L147.5,660 L149.3,650.3 L152.9,646 L154.4,636 L158.7,625.9 L163,604.4 L165.9,599.3 L169.5,597.2 L172.3,592.9 L173.8,600 L177.4,608.7 L178.8,613.7 L180.9,608.7 L184.5,625.9 L186.7,623 L190.3,628.8 L194.6,644.6 L198.2,646.8 L201.1,645.3 L203.2,657.5 L207.5,672.6 L210,667 L211.8,668.3 L214.9,674.7 L216.5,677 L218.5,683.9 L221.3,695.2 L223.4,690.3 L226.2,686 L227.6,695 L229.1,704.4 L231.2,705.8 L234,700.1 L236,703 L238.2,710.7 L240.4,715 L243.2,709.3 L246,706.5 L248.1,711.4 L250.2,709 L253.1,698 L255.2,703.7 L257.3,712.1 L259.4,704.4 L261.6,707.9 L264.4,705.8 L267.9,704.4 L270,708.6 L272.1,703 L274.3,710.7 L276.4,705.8 L278.5,703 L280.6,710 L283.4,709.3 L286.3,706.5 L288.4,709.3 L290.5,703 L293.3,703 L296.2,703.7 L299.5,701.6" fill="none" stroke="#404040" stroke-width="1.3" stroke-linejoin="round" stroke-linecap="round" />
<path d="M48.17,692.13 L48.59,692.13 L49.01,692.13 L49.43,692.13 L49.85,692.13 L50.27,692.13 L50.69,692.13 L51.11,692.13 L51.53,692.13 L51.96,692.13 L52.38,692.13 L52.8,692.13 L53.22,692.13 L53.64,692.13 L54.06,692.13 L54.48,692.13 L54.9,692.13 L55.32,692.13 L55.74,692.13 L56.16,692.13 L56.58,692.13 L57,692.13 L57.42,692.13 L57.84,692.13 L58.26,692.13 L58.68,692.13 L59.11,692.13 L59.53,692.13 L59.95,692.13 L60.37,692.13 L60.79,692.13 L61.21,692.13 L61.63,692.13 L62.05,692.13 L62.47,692.13 L62.89,692.13 L63.31,692.13 L63.73,692.13 L64.15,692.13 L64.57,692.13 L64.99,692.13 L65.41,692.13 L65.84,692.13 L66.26,692.13 L66.68,692.13 L67.1,692.13 L67.52,692.13 L67.94,692.13 L68.36,692.13 L68.78,692.13 L69.2,692.13 L69.62,692.13 L70.04,692.13 L70.46,692.13 L70.88,692.13 L71.3,692.13 L71.72,692.13 L72.14,692.13 L72.56,692.13 L72.99,692.13 L73.41,692.13 L73.83,692.13 L74.25,692.13 L74.67,692.13 L75.09,692.13 L75.51,692.13 L75.93,692.13 L76.35,692.13 L76.77,692.13 L77.19,692.13 L77.61,692.13 L78.03,692.13 L78.45,692.13 L78.87,692.13 L79.29,692.13 L79.71,692.13 L80.14,692.13 L80.56,692.13 L80.98,692.13 L81.4,692.13 L81.82,692.13 L82.24,692.13 L82.66,692.13 L83.08,692.13 L83.5,692.13 L83.92,692.13 L84.34,692.13 L84.76,692.13 L85.18,692.13 L85.6,692.13 L86.02,692.13 L86.44,692.13 L86.87,692.13 L87.29,692.13 L87.71,692.13 L88.13,692.13 L88.55,692.13 L88.97,692.13 L89.39,692.13 L89.81,692.13 L90.23,692.13 L90.65,692.13 L91.07,692.13 L91.49,692.13 L91.91,692.13 L92.33,692.13 L92.75,692.13 L93.17,692.13 L93.59,692.13 L94.02,692.12 L94.44,692.12 L94.86,692.12 L95.28,692.12 L95.7,692.12 L96.12,692.12 L96.54,692.12 L96.96,692.12 L97.38,692.12 L97.8,692.12 L98.22,692.12 L98.64,692.11 L99.06,692.11 L99.48,692.11 L99.9,692.11 L100.32,692.11 L100.74,692.1 L101.17,692.1 L101.59,692.1 L102.01,692.09 L102.43,692.09 L102.85,692.09 L103.27,692.08 L103.69,692.08 L104.11,692.07 L104.53,692.07 L104.95,692.06 L105.37,692.06 L105.79,692.05 L106.21,692.04 L106.63,692.03 L107.05,692.03 L107.47,692.02 L107.9,692.01 L108.32,691.99 L108.74,691.98 L109.16,691.97 L109.58,691.95 L110,691.94 L110.42,691.92 L110.84,691.9 L111.26,691.89 L111.68,691.86 L112.1,691.84 L112.52,691.82 L112.94,691.79 L113.36,691.76 L113.78,691.73 L114.2,691.7 L114.62,691.67 L115.05,691.63 L115.47,691.59 L115.89,691.55 L116.31,691.5 L116.73,691.45 L117.15,691.4 L117.57,691.34 L117.99,691.28 L118.41,691.22 L118.83,691.15 L119.25,691.08 L119.67,691 L120.09,690.92 L120.51,690.83 L120.93,690.74 L121.35,690.64 L121.77,690.53 L122.2,690.42 L122.62,690.3 L123.04,690.18 L123.46,690.04 L123.88,689.9 L124.3,689.75 L124.72,689.6 L125.14,689.43 L125.56,689.25 L125.98,689.07 L126.4,688.87 L126.82,688.67 L127.24,688.45 L127.66,688.22 L128.08,687.98 L128.5,687.73 L128.93,687.46 L129.35,687.19 L129.77,686.89 L130.19,686.59 L130.61,686.27 L131.03,685.93 L131.45,685.58 L131.87,685.21 L132.29,684.83 L132.71,684.43 L133.13,684.01 L133.55,683.58 L133.97,683.12 L134.39,682.65 L134.81,682.16 L135.23,681.65 L135.65,681.12 L136.08,680.57 L136.5,679.99 L136.92,679.4 L137.34,678.79 L137.76,678.15 L138.18,677.49 L138.6,676.81 L139.02,676.11 L139.44,675.38 L139.86,674.64 L140.28,673.87 L140.7,673.07 L141.12,672.25 L141.54,671.41 L141.96,670.55 L142.38,669.66 L142.8,668.75 L143.23,667.82 L143.65,666.86 L144.07,665.89 L144.49,664.88 L144.91,663.86 L145.33,662.82 L145.75,661.75 L146.17,660.66 L146.59,659.56 L147.01,658.43 L147.43,657.29 L147.85,656.12 L148.27,654.94 L148.69,653.74 L149.11,652.53 L149.53,651.3 L149.96,650.05 L150.38,648.8 L150.8,647.53 L151.22,646.25 L151.64,644.96 L152.06,643.66 L152.48,642.35 L152.9,641.04 L153.32,639.73 L153.74,638.41 L154.16,637.08 L154.58,635.76 L155,634.44 L155.42,633.12 L155.84,631.81 L156.26,630.5 L156.68,629.2 L157.11,627.91 L157.53,626.63 L157.95,625.36 L158.37,624.1 L158.79,622.86 L159.21,621.64 L159.63,620.44 L160.05,619.25 L160.47,618.09 L160.89,616.96 L161.31,615.84 L161.73,614.76 L162.15,613.7 L162.57,612.68 L162.99,611.68 L163.41,610.72 L163.83,609.8 L164.26,608.9 L164.68,608.05 L165.1,607.23 L165.52,606.45 L165.94,605.72 L166.36,605.02 L166.78,604.37 L167.2,603.76 L167.62,603.19 L168.04,602.67 L168.46,602.19 L168.88,601.76 L169.3,601.37 L169.72,601.03 L170.14,600.74 L170.56,600.5 L170.99,600.3 L171.41,600.15 L171.83,600.04 L172.25,599.98 L172.67,599.97 L173.09,600.01 L173.51,600.09 L173.93,600.21 L174.35,600.38 L174.77,600.59 L175.19,600.85 L175.61,601.15 L176.03,601.49 L176.45,601.87 L176.87,602.29 L177.29,602.74 L177.71,603.24 L178.14,603.77 L178.56,604.33 L178.98,604.93 L179.4,605.56 L179.82,606.22 L180.24,606.9 L180.66,607.62 L181.08,608.36 L181.5,609.12 L181.92,609.91 L182.34,610.72 L182.76,611.55 L183.18,612.4 L183.6,613.26 L184.02,614.14 L184.44,615.04 L184.86,615.94 L185.29,616.86 L185.71,617.79 L186.13,618.73 L186.55,619.67 L186.97,620.62 L187.39,621.58 L187.81,622.54 L188.23,623.5 L188.65,624.46 L189.07,625.43 L189.49,626.39 L189.91,627.36 L190.33,628.32 L190.75,629.28 L191.17,630.24 L191.59,631.19 L192.02,632.14 L192.44,633.08 L192.86,634.03 L193.28,634.96 L193.7,635.89 L194.12,636.82 L194.54,637.73 L194.96,638.65 L195.38,639.56 L195.8,640.46 L196.22,641.35 L196.64,642.25 L197.06,643.13 L197.48,644.01 L197.9,644.89 L198.32,645.76 L198.74,646.62 L199.17,647.48 L199.59,648.34 L200.01,649.2 L200.43,650.05 L200.85,650.89 L201.27,651.74 L201.69,652.58 L202.11,653.42 L202.53,654.26 L202.95,655.1 L203.37,655.94 L203.79,656.78 L204.21,657.61 L204.63,658.45 L205.05,659.28 L205.47,660.12 L205.89,660.95 L206.32,661.79 L206.74,662.63 L207.16,663.47 L207.58,664.3 L208,665.14 L208.42,665.98 L208.84,666.82 L209.26,667.66 L209.68,668.5 L210.1,669.34 L210.52,670.18 L210.94,671.02 L211.36,671.85 L211.78,672.69 L212.2,673.52 L212.62,674.36 L213.05,675.19 L213.47,676.01 L213.89,676.84 L214.31,677.66 L214.73,678.48 L215.15,679.29 L215.57,680.1 L215.99,680.9 L216.41,681.69 L216.83,682.48 L217.25,683.26 L217.67,684.04 L218.09,684.81 L218.51,685.56 L218.93,686.31 L219.35,687.05 L219.77,687.78 L220.2,688.5 L220.62,689.2 L221.04,689.9 L221.46,690.59 L221.88,691.26 L222.3,691.92 L222.72,692.56 L223.14,693.2 L223.56,693.82 L223.98,694.43 L224.4,695.02 L224.82,695.6 L225.24,696.16 L225.66,696.71 L226.08,697.25 L226.5,697.77 L226.92,698.28 L227.35,698.77 L227.77,699.25 L228.19,699.71 L228.61,700.16 L229.03,700.59 L229.45,701.01 L229.87,701.41 L230.29,701.8 L230.71,702.18 L231.13,702.54 L231.55,702.89 L231.97,703.23 L232.39,703.55 L232.81,703.86 L233.23,704.15 L233.65,704.44 L234.08,704.71 L234.5,704.97 L234.92,705.22 L235.34,705.45 L235.76,705.68 L236.18,705.89 L236.6,706.1 L237.02,706.29 L237.44,706.48 L237.86,706.65 L238.28,706.82 L238.7,706.97 L239.12,707.12 L239.54,707.26 L239.96,707.4 L240.38,707.52 L240.8,707.64 L241.23,707.75 L241.65,707.86 L242.07,707.96 L242.49,708.05 L242.91,708.14 L243.33,708.22 L243.75,708.3 L244.17,708.37 L244.59,708.43 L245.01,708.5 L245.43,708.56 L245.85,708.61 L246.27,708.66 L246.69,708.71 L247.11,708.75 L247.53,708.79 L247.95,708.83 L248.38,708.87 L248.8,708.9 L249.22,708.93 L249.64,708.96 L250.06,708.99 L250.48,709.01 L250.9,709.03 L251.32,709.05 L251.74,709.07 L252.16,709.09 L252.58,709.1 L253,709.12 L253.42,709.13 L253.84,709.14 L254.26,709.16 L254.68,709.17 L255.11,709.18 L255.53,709.18 L255.95,709.19 L256.37,709.2 L256.79,709.21 L257.21,709.21 L257.63,709.22 L258.05,709.22 L258.47,709.23 L258.89,709.23 L259.31,709.24 L259.73,709.24 L260.15,709.24 L260.57,709.24 L260.99,709.25 L261.41,709.25 L261.83,709.25 L262.26,709.25 L262.68,709.26 L263.1,709.26 L263.52,709.26 L263.94,709.26 L264.36,709.26 L264.78,709.26 L265.2,709.26 L265.62,709.26 L266.04,709.26 L266.46,709.26 L266.88,709.26 L267.3,709.27 L267.72,709.27 L268.14,709.27 L268.56,709.27 L268.98,709.27 L269.41,709.27 L269.83,709.27 L270.25,709.27 L270.67,709.27 L271.09,709.27 L271.51,709.27 L271.93,709.27 L272.35,709.27 L272.77,709.27 L273.19,709.27 L273.61,709.27 L274.03,709.27 L274.45,709.27 L274.87,709.27 L275.29,709.27 L275.71,709.27 L276.14,709.27 L276.56,709.27 L276.98,709.27 L277.4,709.27 L277.82,709.27 L278.24,709.27 L278.66,709.27 L279.08,709.27 L279.5,709.27 L279.92,709.27 L280.34,709.27 L280.76,709.27 L281.18,709.27 L281.6,709.27 L282.02,709.27 L282.44,709.27 L282.86,709.27 L283.29,709.27 L283.71,709.27 L284.13,709.27 L284.55,709.27 L284.97,709.27 L285.39,709.27 L285.81,709.27 L286.23,709.27 L286.65,709.27 L287.07,709.27 L287.49,709.27 L287.91,709.27 L288.33,709.27 L288.75,709.27 L289.17,709.27 L289.59,709.27 L290.01,709.27 L290.44,709.27 L290.86,709.27 L291.28,709.27 L291.7,709.27 L292.12,709.27 L292.54,709.27 L292.96,709.27 L293.38,709.27 L293.8,709.27 L294.22,709.27 L294.64,709.27 L295.06,709.27 L295.48,709.27 L295.9,709.27 L296.32,709.27 L296.74,709.27 L297.17,709.27 L297.59,709.27 L298.01,709.27 L298.43,709.27 L298.85,709.27 L299.27,709.27 L299.69,709.27 L300.11,709.27 L300.53,709.27" fill="none" stroke="#FF6EC4" stroke-width="1.8" stroke-linejoin="round" stroke-linecap="round" />
<rect x="383.1" y="529.8" width="251.2" height="203.6" fill="none" stroke="#000" stroke-width="2.4"/>
<line x1="383.1" y1="733.5" x2="386.3" y2="733.5" stroke="#000" stroke-width="1.7"/>
<text x="380.5" y="735.9" font-size="8.5" text-anchor="end" font-weight="bold" >4000</text>
<line x1="383.1" y1="703.95" x2="386.3" y2="703.95" stroke="#000" stroke-width="1.7"/>
<text x="380.5" y="706.35" font-size="8.5" text-anchor="end" font-weight="bold" >5000</text>
<line x1="383.1" y1="674.4" x2="386.3" y2="674.4" stroke="#000" stroke-width="1.7"/>
<text x="380.5" y="676.8" font-size="8.5" text-anchor="end" font-weight="bold" >6000</text>
<line x1="383.1" y1="644.85" x2="386.3" y2="644.85" stroke="#000" stroke-width="1.7"/>
<text x="380.5" y="647.25" font-size="8.5" text-anchor="end" font-weight="bold" >7000</text>
<line x1="383.1" y1="615.3" x2="386.3" y2="615.3" stroke="#000" stroke-width="1.7"/>
<text x="380.5" y="617.7" font-size="8.5" text-anchor="end" font-weight="bold" >8000</text>
<line x1="383.1" y1="585.75" x2="386.3" y2="585.75" stroke="#000" stroke-width="1.7"/>
<text x="380.5" y="588.15" font-size="8.5" text-anchor="end" font-weight="bold" >9000</text>
<line x1="383.1" y1="556.2" x2="386.3" y2="556.2" stroke="#000" stroke-width="1.7"/>
<text x="380.5" y="558.6" font-size="8.5" text-anchor="end" font-weight="bold" >10000</text>
<line x1="404" y1="733.4" x2="404" y2="730.2" stroke="#000" stroke-width="1.7"/>
<text x="404" y="743" font-size="8.5" text-anchor="middle" font-weight="bold" >536</text>
<line x1="446.06" y1="733.4" x2="446.06" y2="730.2" stroke="#000" stroke-width="1.7"/>
<text x="446.06" y="743" font-size="8.5" text-anchor="middle" font-weight="bold" >534</text>
<line x1="488.12" y1="733.4" x2="488.12" y2="730.2" stroke="#000" stroke-width="1.7"/>
<text x="488.12" y="743" font-size="8.5" text-anchor="middle" font-weight="bold" >532</text>
<line x1="530.18" y1="733.4" x2="530.18" y2="730.2" stroke="#000" stroke-width="1.7"/>
<text x="530.18" y="743" font-size="8.5" text-anchor="middle" font-weight="bold" >530</text>
<line x1="572.24" y1="733.4" x2="572.24" y2="730.2" stroke="#000" stroke-width="1.7"/>
<text x="572.24" y="743" font-size="8.5" text-anchor="middle" font-weight="bold" >528</text>
<line x1="614.3" y1="733.4" x2="614.3" y2="730.2" stroke="#000" stroke-width="1.7"/>
<text x="614.3" y="743" font-size="8.5" text-anchor="middle" font-weight="bold" >526</text>
<line x1="425.03" y1="733.4" x2="425.03" y2="731.6" stroke="#000" stroke-width="1"/>
<line x1="467.09" y1="733.4" x2="467.09" y2="731.6" stroke="#000" stroke-width="1"/>
<line x1="509.15" y1="733.4" x2="509.15" y2="731.6" stroke="#000" stroke-width="1"/>
<line x1="551.21" y1="733.4" x2="551.21" y2="731.6" stroke="#000" stroke-width="1"/>
<line x1="593.27" y1="733.4" x2="593.27" y2="731.6" stroke="#000" stroke-width="1"/>
<text x="508.9" y="761.7" font-size="13.5" text-anchor="middle" font-weight="bold" >Bind Energy (eV)</text>
<text x="351.4" y="631.6" font-size="13.7" text-anchor="middle" font-weight="bold" transform="rotate(-90 351.4 631.6)">Intensity (A.U.)</text>
<text x="351.4" y="522.8" font-size="20" text-anchor="start" font-weight="bold" >(e)</text>
<line x1="392.6" y1="541.6" x2="412.8" y2="541.6" stroke="#404040" stroke-width="1.8"/>
<text x="414.8" y="544.7" font-size="8.5" text-anchor="start" font-weight="bold" >Real value</text>
<line x1="392.6" y1="552.6" x2="412.8" y2="552.6" stroke="#528888" stroke-width="1.8"/>
<text x="414.8" y="555.7" font-size="8.5" text-anchor="start" font-weight="bold" >Background</text>
<line x1="392.6" y1="563.6" x2="412.8" y2="563.6" stroke="#FF6EC4" stroke-width="1.8"/>
<text x="414.8" y="566.7" font-size="8.5" text-anchor="start" font-weight="bold" >Fitted curve</text>
<text x="513.8" y="578.9" font-size="8.5" text-anchor="start" font-weight="bold" >O 1s</text>
<path d="M382.97,680.9 L383.39,680.9 L383.81,680.9 L384.23,680.9 L384.65,680.9 L385.07,680.9 L385.49,680.9 L385.91,680.9 L386.33,680.9 L386.76,680.9 L387.18,680.9 L387.6,680.9 L388.02,680.9 L388.44,680.9 L388.86,680.9 L389.28,680.9 L389.7,680.9 L390.12,680.9 L390.54,680.9 L390.96,680.9 L391.38,680.9 L391.8,680.9 L392.22,680.9 L392.64,680.9 L393.06,680.9 L393.48,680.9 L393.91,680.9 L394.33,680.9 L394.75,680.9 L395.17,680.9 L395.59,680.9 L396.01,680.9 L396.43,680.9 L396.85,680.9 L397.27,680.9 L397.69,680.9 L398.11,680.9 L398.53,680.9 L398.95,680.9 L399.37,680.9 L399.79,680.9 L400.21,680.9 L400.64,680.9 L401.06,680.9 L401.48,680.9 L401.9,680.9 L402.32,680.9 L402.74,680.9 L403.16,680.9 L403.58,680.9 L404,680.9 L404.42,680.9 L404.84,680.9 L405.26,680.9 L405.68,680.9 L406.1,680.9 L406.52,680.9 L406.94,680.9 L407.36,680.9 L407.79,680.9 L408.21,680.9 L408.63,680.9 L409.05,680.9 L409.47,680.9 L409.89,680.9 L410.31,680.9 L410.73,680.9 L411.15,680.9 L411.57,680.9 L411.99,680.9 L412.41,680.9 L412.83,680.9 L413.25,680.9 L413.67,680.9 L414.09,680.9 L414.51,680.9 L414.94,680.9 L415.36,680.9 L415.78,680.9 L416.2,680.9 L416.62,680.9 L417.04,680.9 L417.46,680.9 L417.88,680.9 L418.3,680.9 L418.72,680.9 L419.14,680.9 L419.56,680.9 L419.98,680.9 L420.4,680.9 L420.82,680.9 L421.24,680.9 L421.67,680.9 L422.09,680.9 L422.51,680.9 L422.93,680.9 L423.35,680.9 L423.77,680.9 L424.19,680.9 L424.61,680.9 L425.03,680.9 L425.45,680.9 L425.87,680.9 L426.29,680.9 L426.71,680.9 L427.13,680.9 L427.55,680.9 L427.97,680.9 L428.39,680.9 L428.82,680.9 L429.24,680.9 L429.66,680.9 L430.08,680.9 L430.5,680.9 L430.92,680.9 L431.34,680.9 L431.76,680.9 L432.18,680.9 L432.6,680.9 L433.02,680.9 L433.44,680.9 L433.86,680.91 L434.28,680.91 L434.7,680.91 L435.12,680.91 L435.54,680.91 L435.97,680.91 L436.39,680.91 L436.81,680.91 L437.23,680.91 L437.65,680.91 L438.07,680.91 L438.49,680.91 L438.91,680.91 L439.33,680.91 L439.75,680.91 L440.17,680.91 L440.59,680.91 L441.01,680.92 L441.43,680.92 L441.85,680.92 L442.27,680.92 L442.7,680.92 L443.12,680.92 L443.54,680.92 L443.96,680.92 L444.38,680.93 L444.8,680.93 L445.22,680.93 L445.64,680.93 L446.06,680.93 L446.48,680.94 L446.9,680.94 L447.32,680.94 L447.74,680.94 L448.16,680.95 L448.58,680.95 L449,680.95 L449.42,680.96 L449.85,680.96 L450.27,680.96 L450.69,680.97 L451.11,680.97 L451.53,680.98 L451.95,680.98 L452.37,680.99 L452.79,680.99 L453.21,681 L453.63,681 L454.05,681.01 L454.47,681.02 L454.89,681.02 L455.31,681.03 L455.73,681.04 L456.15,681.05 L456.57,681.06 L457,681.06 L457.42,681.07 L457.84,681.08 L458.26,681.09 L458.68,681.11 L459.1,681.12 L459.52,681.13 L459.94,681.14 L460.36,681.15 L460.78,681.17 L461.2,681.18 L461.62,681.2 L462.04,681.21 L462.46,681.23 L462.88,681.25 L463.3,681.27 L463.73,681.28 L464.15,681.3 L464.57,681.32 L464.99,681.35 L465.41,681.37 L465.83,681.39 L466.25,681.42 L466.67,681.44 L467.09,681.47 L467.51,681.49 L467.93,681.52 L468.35,681.55 L468.77,681.58 L469.19,681.62 L469.61,681.65 L470.03,681.68 L470.45,681.72 L470.88,681.76 L471.3,681.79 L471.72,681.83 L472.14,681.87 L472.56,681.92 L472.98,681.96 L473.4,682.01 L473.82,682.05 L474.24,682.1 L474.66,682.15 L475.08,682.2 L475.5,682.26 L475.92,682.31 L476.34,682.37 L476.76,682.43 L477.18,682.49 L477.6,682.55 L478.03,682.62 L478.45,682.68 L478.87,682.75 L479.29,682.82 L479.71,682.89 L480.13,682.97 L480.55,683.04 L480.97,683.12 L481.39,683.2 L481.81,683.28 L482.23,683.37 L482.65,683.45 L483.07,683.54 L483.49,683.63 L483.91,683.72 L484.33,683.82 L484.76,683.91 L485.18,684.01 L485.6,684.11 L486.02,684.22 L486.44,684.32 L486.86,684.43 L487.28,684.54 L487.7,684.65 L488.12,684.77 L488.54,684.88 L488.96,685 L489.38,685.12 L489.8,685.24 L490.22,685.37 L490.64,685.5 L491.06,685.63 L491.48,685.76 L491.91,685.89 L492.33,686.02 L492.75,686.16 L493.17,686.3 L493.59,686.44 L494.01,686.58 L494.43,686.73 L494.85,686.88 L495.27,687.02 L495.69,687.17 L496.11,687.33 L496.53,687.48 L496.95,687.63 L497.37,687.79 L497.79,687.95 L498.21,688.11 L498.63,688.27 L499.06,688.43 L499.48,688.6 L499.9,688.76 L500.32,688.93 L500.74,689.09 L501.16,689.26 L501.58,689.43 L502,689.6 L502.42,689.77 L502.84,689.94 L503.26,690.11 L503.68,690.29 L504.1,690.46 L504.52,690.64 L504.94,690.81 L505.36,690.99 L505.79,691.16 L506.21,691.34 L506.63,691.51 L507.05,691.69 L507.47,691.86 L507.89,692.04 L508.31,692.21 L508.73,692.39 L509.15,692.56 L509.57,692.74 L509.99,692.91 L510.41,693.09 L510.83,693.26 L511.25,693.43 L511.67,693.6 L512.09,693.77 L512.51,693.94 L512.94,694.11 L513.36,694.28 L513.78,694.45 L514.2,694.61 L514.62,694.78 L515.04,694.94 L515.46,695.1 L515.88,695.27 L516.3,695.42 L516.72,695.58 L517.14,695.74 L517.56,695.89 L517.98,696.05 L518.4,696.2 L518.82,696.35 L519.24,696.5 L519.66,696.64 L520.09,696.79 L520.51,696.93 L520.93,697.07 L521.35,697.21 L521.77,697.35 L522.19,697.48 L522.61,697.62 L523.03,697.75 L523.45,697.88 L523.87,698 L524.29,698.13 L524.71,698.25 L525.13,698.37 L525.55,698.49 L525.97,698.61 L526.39,698.72 L526.82,698.83 L527.24,698.94 L527.66,699.05 L528.08,699.16 L528.5,699.26 L528.92,699.36 L529.34,699.46 L529.76,699.56 L530.18,699.65 L530.6,699.74 L531.02,699.83 L531.44,699.92 L531.86,700.01 L532.28,700.09 L532.7,700.17 L533.12,700.25 L533.54,700.33 L533.97,700.41 L534.39,700.48 L534.81,700.55 L535.23,700.62 L535.65,700.69 L536.07,700.76 L536.49,700.82 L536.91,700.88 L537.33,700.94 L537.75,701 L538.17,701.06 L538.59,701.11 L539.01,701.17 L539.43,701.22 L539.85,701.27 L540.27,701.32 L540.69,701.37 L541.12,701.41 L541.54,701.46 L541.96,701.5 L542.38,701.54 L542.8,701.58 L543.22,701.62 L543.64,701.65 L544.06,701.69 L544.48,701.72 L544.9,701.76 L545.32,701.79 L545.74,701.82 L546.16,701.85 L546.58,701.88 L547,701.91 L547.42,701.93 L547.85,701.96 L548.27,701.98 L548.69,702.01 L549.11,702.03 L549.53,702.05 L549.95,702.07 L550.37,702.09 L550.79,702.11 L551.21,702.13 L551.63,702.14 L552.05,702.16 L552.47,702.18 L552.89,702.19 L553.31,702.21 L553.73,702.22 L554.15,702.23 L554.57,702.24 L555,702.26 L555.42,702.27 L555.84,702.28 L556.26,702.29 L556.68,702.3 L557.1,702.31 L557.52,702.32 L557.94,702.33 L558.36,702.33 L558.78,702.34 L559.2,702.35 L559.62,702.36 L560.04,702.36 L560.46,702.37 L560.88,702.38 L561.3,702.38 L561.72,702.39 L562.15,702.39 L562.57,702.4 L562.99,702.4 L563.41,702.41 L563.83,702.41 L564.25,702.41 L564.67,702.42 L565.09,702.42 L565.51,702.42 L565.93,702.43 L566.35,702.43 L566.77,702.43 L567.19,702.43 L567.61,702.44 L568.03,702.44 L568.45,702.44 L568.88,702.44 L569.3,702.45 L569.72,702.45 L570.14,702.45 L570.56,702.45 L570.98,702.45 L571.4,702.45 L571.82,702.45 L572.24,702.46 L572.66,702.46 L573.08,702.46 L573.5,702.46 L573.92,702.46 L574.34,702.46 L574.76,702.46 L575.18,702.46 L575.6,702.46 L576.03,702.46 L576.45,702.46 L576.87,702.46 L577.29,702.47 L577.71,702.47 L578.13,702.47 L578.55,702.47 L578.97,702.47 L579.39,702.47 L579.81,702.47 L580.23,702.47 L580.65,702.47 L581.07,702.47 L581.49,702.47 L581.91,702.47 L582.33,702.47 L582.75,702.47 L583.18,702.47 L583.6,702.47 L584.02,702.47 L584.44,702.47 L584.86,702.47 L585.28,702.47 L585.7,702.47 L586.12,702.47 L586.54,702.47 L586.96,702.47 L587.38,702.47 L587.8,702.47 L588.22,702.47 L588.64,702.47 L589.06,702.47 L589.48,702.47 L589.91,702.47 L590.33,702.47 L590.75,702.47 L591.17,702.47 L591.59,702.47 L592.01,702.47 L592.43,702.47 L592.85,702.47 L593.27,702.47 L593.69,702.47 L594.11,702.47 L594.53,702.47 L594.95,702.47 L595.37,702.47 L595.79,702.47 L596.21,702.47 L596.63,702.47 L597.06,702.47 L597.48,702.47 L597.9,702.47 L598.32,702.47 L598.74,702.47 L599.16,702.47 L599.58,702.47 L600,702.47 L600.42,702.47 L600.84,702.47 L601.26,702.47 L601.68,702.47 L602.1,702.47 L602.52,702.47 L602.94,702.47 L603.36,702.47 L603.78,702.47 L604.21,702.47 L604.63,702.47 L605.05,702.47 L605.47,702.47 L605.89,702.47 L606.31,702.47 L606.73,702.47 L607.15,702.47 L607.57,702.47 L607.99,702.47 L608.41,702.47 L608.83,702.47 L609.25,702.47 L609.67,702.47 L610.09,702.47 L610.51,702.47 L610.94,702.47 L611.36,702.47 L611.78,702.47 L612.2,702.47 L612.62,702.47 L613.04,702.47 L613.46,702.47 L613.88,702.47 L614.3,702.47 L614.72,702.47 L615.14,702.47 L615.56,702.47 L615.98,702.47 L616.4,702.47 L616.82,702.47 L617.24,702.47 L617.66,702.47 L618.09,702.47 L618.51,702.47 L618.93,702.47 L619.35,702.47 L619.77,702.47 L620.19,702.47 L620.61,702.47 L621.03,702.47 L621.45,702.47 L621.87,702.47 L622.29,702.47 L622.71,702.47 L623.13,702.47 L623.55,702.47 L623.97,702.47 L624.39,702.47 L624.81,702.47 L625.24,702.47 L625.66,702.47 L626.08,702.47 L626.5,702.47 L626.92,702.47 L627.34,702.47 L627.76,702.47 L628.18,702.47 L628.6,702.47 L629.02,702.47 L629.44,702.47 L629.86,702.47 L630.28,702.47 L630.7,702.47 L631.12,702.47 L631.54,702.47 L631.97,702.47 L632.39,702.47 L632.81,702.47 L633.23,702.47 L633.65,702.47 L634.07,702.47 L634.49,702.47 L634.91,702.47 L635.33,702.47" fill="none" stroke="#528888" stroke-width="1.6" stroke-linejoin="round" stroke-linecap="round" />
<path d="M383.2,676 L383.5,673.8 L385.5,681.6 L388.6,682 L391,682.4 L394.9,675.3 L397.3,689.5 L400.4,682.4 L403.5,676.1 L405.9,678.5 L407.5,676.9 L410.6,686.3 L413,684 L416.1,675.3 L418.5,682.4 L422.4,673 L425.5,678.5 L428.7,669.8 L431,679.2 L433.4,674.5 L437.3,677.7 L438.9,682.4 L441.2,673.8 L444.4,677.7 L449.1,682.4 L452.2,674.5 L454.6,680 L458.5,678.5 L461.6,674.5 L464,662.8 L467.1,664.3 L470.3,669.8 L474.2,660.4 L475.8,655.7 L478.5,644.2 L480.6,645.6 L482,631.5 L484.8,604.7 L488.4,609.6 L491.2,599.7 L493.3,592 L495.4,592.7 L497.5,576.4 L499,586.3 L500.4,592 L503.2,592.7 L506.7,589.1 L510.3,601.1 L513.1,604 L515.9,600.4 L518.7,618.8 L520.8,614.5 L523.7,630.1 L525.1,631.5 L527.2,649.9 L529.5,648 L532.9,672.5 L535.7,659 L539.2,666.8 L543.8,676.6 L548.4,682 L550.7,691.1 L553.7,692.6 L556.7,698.7 L560.5,701.8 L564.4,704 L566.6,688 L568.9,698 L571.2,704 L573.8,703 L576.5,701.8 L579.6,705.6 L583.4,697.2 L585.7,699 L588,697.2 L590.2,701.8 L593.3,698 L597.1,701 L599.4,702.5 L601.6,695.7 L603.9,707.1 L606.2,702.5 L608.5,710.1 L612.3,692.6 L615.3,703.3 L617.6,702.5 L620.7,705.6 L623,699.5 L625.2,700.2 L629,691.9 L632.1,698.7 L633.5,700" fill="none" stroke="#404040" stroke-width="1.3" stroke-linejoin="round" stroke-linecap="round" />
<path d="M382.97,680.9 L383.39,680.9 L383.81,680.9 L384.23,680.9 L384.65,680.9 L385.07,680.9 L385.49,680.9 L385.91,680.9 L386.33,680.9 L386.76,680.9 L387.18,680.9 L387.6,680.9 L388.02,680.9 L388.44,680.9 L388.86,680.9 L389.28,680.9 L389.7,680.9 L390.12,680.9 L390.54,680.9 L390.96,680.9 L391.38,680.9 L391.8,680.9 L392.22,680.9 L392.64,680.9 L393.06,680.9 L393.48,680.9 L393.91,680.9 L394.33,680.9 L394.75,680.9 L395.17,680.9 L395.59,680.9 L396.01,680.9 L396.43,680.9 L396.85,680.9 L397.27,680.9 L397.69,680.9 L398.11,680.9 L398.53,680.9 L398.95,680.9 L399.37,680.9 L399.79,680.9 L400.21,680.9 L400.64,680.9 L401.06,680.9 L401.48,680.9 L401.9,680.9 L402.32,680.9 L402.74,680.9 L403.16,680.9 L403.58,680.9 L404,680.9 L404.42,680.9 L404.84,680.9 L405.26,680.9 L405.68,680.9 L406.1,680.9 L406.52,680.9 L406.94,680.9 L407.36,680.9 L407.79,680.9 L408.21,680.9 L408.63,680.9 L409.05,680.9 L409.47,680.9 L409.89,680.9 L410.31,680.9 L410.73,680.9 L411.15,680.9 L411.57,680.9 L411.99,680.9 L412.41,680.9 L412.83,680.9 L413.25,680.9 L413.67,680.9 L414.09,680.9 L414.51,680.9 L414.94,680.9 L415.36,680.9 L415.78,680.9 L416.2,680.89 L416.62,680.89 L417.04,680.89 L417.46,680.89 L417.88,680.89 L418.3,680.89 L418.72,680.89 L419.14,680.89 L419.56,680.89 L419.98,680.89 L420.4,680.89 L420.82,680.88 L421.24,680.88 L421.67,680.88 L422.09,680.88 L422.51,680.88 L422.93,680.88 L423.35,680.87 L423.77,680.87 L424.19,680.87 L424.61,680.87 L425.03,680.86 L425.45,680.86 L425.87,680.86 L426.29,680.85 L426.71,680.85 L427.13,680.85 L427.55,680.84 L427.97,680.84 L428.39,680.83 L428.82,680.83 L429.24,680.82 L429.66,680.81 L430.08,680.81 L430.5,680.8 L430.92,680.79 L431.34,680.78 L431.76,680.77 L432.18,680.76 L432.6,680.75 L433.02,680.74 L433.44,680.73 L433.86,680.72 L434.28,680.7 L434.7,680.69 L435.12,680.67 L435.54,680.65 L435.97,680.64 L436.39,680.62 L436.81,680.6 L437.23,680.58 L437.65,680.55 L438.07,680.53 L438.49,680.5 L438.91,680.47 L439.33,680.44 L439.75,680.41 L440.17,680.38 L440.59,680.34 L441.01,680.31 L441.43,680.27 L441.85,680.22 L442.27,680.18 L442.7,680.13 L443.12,680.08 L443.54,680.03 L443.96,679.97 L444.38,679.91 L444.8,679.85 L445.22,679.78 L445.64,679.71 L446.06,679.64 L446.48,679.56 L446.9,679.48 L447.32,679.39 L447.74,679.3 L448.16,679.2 L448.58,679.1 L449,678.99 L449.42,678.88 L449.85,678.76 L450.27,678.64 L450.69,678.51 L451.11,678.37 L451.53,678.23 L451.95,678.08 L452.37,677.92 L452.79,677.76 L453.21,677.59 L453.63,677.41 L454.05,677.22 L454.47,677.02 L454.89,676.82 L455.31,676.6 L455.73,676.38 L456.15,676.14 L456.57,675.9 L457,675.65 L457.42,675.38 L457.84,675.11 L458.26,674.82 L458.68,674.52 L459.1,674.21 L459.52,673.89 L459.94,673.55 L460.36,673.21 L460.78,672.84 L461.2,672.47 L461.62,672.08 L462.04,671.68 L462.46,671.27 L462.88,670.84 L463.3,670.39 L463.73,669.93 L464.15,669.46 L464.57,668.96 L464.99,668.46 L465.41,667.93 L465.83,667.39 L466.25,666.84 L466.67,666.27 L467.09,665.68 L467.51,665.07 L467.93,664.45 L468.35,663.81 L468.77,663.15 L469.19,662.47 L469.61,661.78 L470.03,661.06 L470.45,660.34 L470.88,659.59 L471.3,658.82 L471.72,658.04 L472.14,657.24 L472.56,656.42 L472.98,655.58 L473.4,654.73 L473.82,653.86 L474.24,652.97 L474.66,652.06 L475.08,651.14 L475.5,650.2 L475.92,649.25 L476.34,648.28 L476.76,647.29 L477.18,646.29 L477.6,645.27 L478.03,644.24 L478.45,643.2 L478.87,642.14 L479.29,641.07 L479.71,639.99 L480.13,638.89 L480.55,637.79 L480.97,636.67 L481.39,635.55 L481.81,634.41 L482.23,633.27 L482.65,632.12 L483.07,630.96 L483.49,629.8 L483.91,628.64 L484.33,627.47 L484.76,626.29 L485.18,625.12 L485.6,623.94 L486.02,622.77 L486.44,621.59 L486.86,620.42 L487.28,619.25 L487.7,618.09 L488.12,616.93 L488.54,615.77 L488.96,614.63 L489.38,613.49 L489.8,612.37 L490.22,611.25 L490.64,610.15 L491.06,609.06 L491.48,607.99 L491.91,606.93 L492.33,605.89 L492.75,604.86 L493.17,603.86 L493.59,602.88 L494.01,601.92 L494.43,600.98 L494.85,600.07 L495.27,599.18 L495.69,598.32 L496.11,597.48 L496.53,596.68 L496.95,595.9 L497.37,595.15 L497.79,594.44 L498.21,593.76 L498.63,593.11 L499.06,592.5 L499.48,591.92 L499.9,591.38 L500.32,590.87 L500.74,590.4 L501.16,589.97 L501.58,589.58 L502,589.23 L502.42,588.92 L502.84,588.65 L503.26,588.42 L503.68,588.23 L504.1,588.09 L504.52,587.98 L504.94,587.92 L505.36,587.9 L505.79,587.93 L506.21,588 L506.63,588.11 L507.05,588.26 L507.47,588.46 L507.89,588.7 L508.31,588.98 L508.73,589.31 L509.15,589.68 L509.57,590.09 L509.99,590.54 L510.41,591.03 L510.83,591.56 L511.25,592.14 L511.67,592.75 L512.09,593.4 L512.51,594.1 L512.94,594.82 L513.36,595.59 L513.78,596.39 L514.2,597.23 L514.62,598.1 L515.04,599.01 L515.46,599.95 L515.88,600.92 L516.3,601.92 L516.72,602.95 L517.14,604 L517.56,605.09 L517.98,606.2 L518.4,607.34 L518.82,608.5 L519.24,609.69 L519.66,610.9 L520.09,612.12 L520.51,613.37 L520.93,614.63 L521.35,615.91 L521.77,617.21 L522.19,618.52 L522.61,619.85 L523.03,621.18 L523.45,622.53 L523.87,623.89 L524.29,625.25 L524.71,626.62 L525.13,628 L525.55,629.38 L525.97,630.77 L526.39,632.15 L526.82,633.54 L527.24,634.93 L527.66,636.32 L528.08,637.71 L528.5,639.09 L528.92,640.47 L529.34,641.84 L529.76,643.2 L530.18,644.56 L530.6,645.92 L531.02,647.26 L531.44,648.59 L531.86,649.91 L532.28,651.22 L532.7,652.52 L533.12,653.8 L533.54,655.08 L533.97,656.33 L534.39,657.58 L534.81,658.8 L535.23,660.01 L535.65,661.21 L536.07,662.38 L536.49,663.54 L536.91,664.68 L537.33,665.81 L537.75,666.91 L538.17,667.99 L538.59,669.06 L539.01,670.11 L539.43,671.13 L539.85,672.14 L540.27,673.12 L540.69,674.09 L541.12,675.03 L541.54,675.96 L541.96,676.86 L542.38,677.75 L542.8,678.61 L543.22,679.45 L543.64,680.27 L544.06,681.07 L544.48,681.85 L544.9,682.61 L545.32,683.35 L545.74,684.07 L546.16,684.77 L546.58,685.45 L547,686.12 L547.42,686.76 L547.85,687.38 L548.27,687.98 L548.69,688.57 L549.11,689.14 L549.53,689.69 L549.95,690.22 L550.37,690.74 L550.79,691.23 L551.21,691.71 L551.63,692.18 L552.05,692.63 L552.47,693.06 L552.89,693.48 L553.31,693.88 L553.73,694.27 L554.15,694.64 L554.57,695 L555,695.35 L555.42,695.68 L555.84,696 L556.26,696.31 L556.68,696.61 L557.1,696.89 L557.52,697.16 L557.94,697.42 L558.36,697.67 L558.78,697.91 L559.2,698.14 L559.62,698.36 L560.04,698.57 L560.46,698.77 L560.88,698.96 L561.3,699.15 L561.72,699.32 L562.15,699.49 L562.57,699.65 L562.99,699.8 L563.41,699.95 L563.83,700.08 L564.25,700.22 L564.67,700.34 L565.09,700.46 L565.51,700.57 L565.93,700.68 L566.35,700.78 L566.77,700.88 L567.19,700.97 L567.61,701.06 L568.03,701.14 L568.45,701.22 L568.88,701.29 L569.3,701.36 L569.72,701.43 L570.14,701.49 L570.56,701.55 L570.98,701.61 L571.4,701.66 L571.82,701.71 L572.24,701.76 L572.66,701.81 L573.08,701.85 L573.5,701.89 L573.92,701.93 L574.34,701.96 L574.76,701.99 L575.18,702.02 L575.6,702.05 L576.03,702.08 L576.45,702.11 L576.87,702.13 L577.29,702.15 L577.71,702.18 L578.13,702.2 L578.55,702.22 L578.97,702.23 L579.39,702.25 L579.81,702.26 L580.23,702.28 L580.65,702.29 L581.07,702.31 L581.49,702.32 L581.91,702.33 L582.33,702.34 L582.75,702.35 L583.18,702.36 L583.6,702.37 L584.02,702.37 L584.44,702.38 L584.86,702.39 L585.28,702.39 L585.7,702.4 L586.12,702.41 L586.54,702.41 L586.96,702.42 L587.38,702.42 L587.8,702.42 L588.22,702.43 L588.64,702.43 L589.06,702.43 L589.48,702.44 L589.91,702.44 L590.33,702.44 L590.75,702.44 L591.17,702.45 L591.59,702.45 L592.01,702.45 L592.43,702.45 L592.85,702.45 L593.27,702.46 L593.69,702.46 L594.11,702.46 L594.53,702.46 L594.95,702.46 L595.37,702.46 L595.79,702.46 L596.21,702.46 L596.63,702.46 L597.06,702.46 L597.48,702.47 L597.9,702.47 L598.32,702.47 L598.74,702.47 L599.16,702.47 L599.58,702.47 L600,702.47 L600.42,702.47 L600.84,702.47 L601.26,702.47 L601.68,702.47 L602.1,702.47 L602.52,702.47 L602.94,702.47 L603.36,702.47 L603.78,702.47 L604.21,702.47 L604.63,702.47 L605.05,702.47 L605.47,702.47 L605.89,702.47 L606.31,702.47 L606.73,702.47 L607.15,702.47 L607.57,702.47 L607.99,702.47 L608.41,702.47 L608.83,702.47 L609.25,702.47 L609.67,702.47 L610.09,702.47 L610.51,702.47 L610.94,702.47 L611.36,702.47 L611.78,702.47 L612.2,702.47 L612.62,702.47 L613.04,702.47 L613.46,702.47 L613.88,702.47 L614.3,702.47 L614.72,702.47 L615.14,702.47 L615.56,702.47 L615.98,702.47 L616.4,702.47 L616.82,702.47 L617.24,702.47 L617.66,702.47 L618.09,702.47 L618.51,702.47 L618.93,702.47 L619.35,702.47 L619.77,702.47 L620.19,702.47 L620.61,702.47 L621.03,702.47 L621.45,702.47 L621.87,702.47 L622.29,702.47 L622.71,702.47 L623.13,702.47 L623.55,702.47 L623.97,702.47 L624.39,702.47 L624.81,702.47 L625.24,702.47 L625.66,702.47 L626.08,702.47 L626.5,702.47 L626.92,702.47 L627.34,702.47 L627.76,702.47 L628.18,702.47 L628.6,702.47 L629.02,702.47 L629.44,702.47 L629.86,702.47 L630.28,702.47 L630.7,702.47 L631.12,702.47 L631.54,702.47 L631.97,702.47 L632.39,702.47 L632.81,702.47 L633.23,702.47 L633.65,702.47 L634.07,702.47 L634.49,702.47 L634.91,702.47 L635.33,702.47" fill="none" stroke="#FF6EC4" stroke-width="1.8" stroke-linejoin="round" stroke-linecap="round" />
</svg></body></html>
